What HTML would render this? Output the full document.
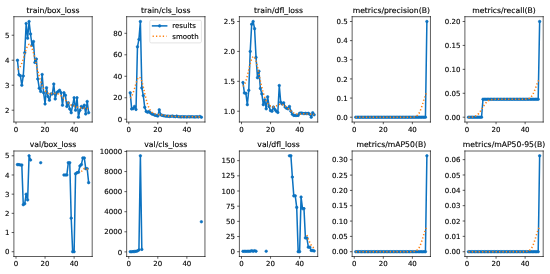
<!DOCTYPE html>
<html><head><meta charset="utf-8"><title>results</title>
<style>html,body{margin:0;padding:0;background:#fff;overflow:hidden}body{width:550px;height:274px;font-family:"DejaVu Sans","Liberation Sans",sans-serif}svg text{stroke:#000;stroke-width:0.2;stroke-linejoin:round}</style></head>
<body>
<svg width="550" height="274" viewBox="0 0 864 432" preserveAspectRatio="none" style="display:block"> <defs> <style type="text/css">*{stroke-linejoin: round; stroke-linecap: butt}</style> </defs> <g id="figure_1"> <g id="patch_1"> <path d="M 0 432 L 864 432 L 864 0 L 0 0 z " style="fill: #ffffff"/> </g> <g id="axes_1"> <g id="patch_2"> <path d="M 21.835636 192.350365 L 144.837818 192.350365 L 144.837818 26.329927 L 21.835636 26.329927 z " style="fill: #ffffff"/> </g> <g id="matplotlib.axis_1"> <g id="xtick_1"> <g id="line2d_1">  <g> <path d="M 0 0 L 0 3.5" transform="translate(25.1446 192.350365)" style="stroke: #000000"/> </g> </g> <g id="text_1"> <text style="font-size: 11.05px; font-family: 'DejaVu Sans', 'Liberation Sans', sans-serif; text-anchor: middle" x="25.1446" y="207.746638">0</text> </g> </g> <g id="xtick_2"> <g id="line2d_2"> <g> <path d="M 0 0 L 0 3.5" transform="translate(70.785484 192.350365)" style="stroke: #000000"/> </g> </g> <g id="text_2"> <text style="font-size: 11.05px; font-family: 'DejaVu Sans', 'Liberation Sans', sans-serif; text-anchor: middle" x="70.785484" y="207.746638">20</text> </g> </g> <g id="xtick_3"> <g id="line2d_3"> <g> <path d="M 0 0 L 0 3.5" transform="translate(116.426368 192.350365)" style="stroke: #000000"/> </g> </g> <g id="text_3"> <text style="font-size: 11.05px; font-family: 'DejaVu Sans', 'Liberation Sans', sans-serif; text-anchor: middle" x="116.426368" y="207.746638">40</text> </g> </g> </g> <g id="matplotlib.axis_2"> <g id="ytick_1"> <g id="line2d_4">  <g> <path d="M 0 0 L -3.5 0" transform="translate(21.835636 173.770105)" style="stroke: #000000"/> </g> </g> <g id="text_4"> <text style="font-size: 11.05px; font-family: 'DejaVu Sans', 'Liberation Sans', sans-serif; text-anchor: end" x="14.835636" y="177.968241">2</text> </g> </g> <g id="ytick_2"> <g id="line2d_5"> <g> <path d="M 0 0 L -3.5 0" transform="translate(21.835636 134.363402)" style="stroke: #000000"/> </g> </g> <g id="text_5"> <text style="font-size: 11.05px; font-family: 'DejaVu Sans', 'Liberation Sans', sans-serif; text-anchor: end" x="14.835636" y="138.561539">3</text> </g> </g> <g id="ytick_3"> <g id="line2d_6"> <g> <path d="M 0 0 L -3.5 0" transform="translate(21.835636 94.9567)" style="stroke: #000000"/> </g> </g> <g id="text_6"> <text style="font-size: 11.05px; font-family: 'DejaVu Sans', 'Liberation Sans', sans-serif; text-anchor: end" x="14.835636" y="99.154836">4</text> </g> </g> <g id="ytick_4"> <g id="line2d_7"> <g> <path d="M 0 0 L -3.5 0" transform="translate(21.835636 55.549997)" style="stroke: #000000"/> </g> </g> <g id="text_7"> <text style="font-size: 11.05px; font-family: 'DejaVu Sans', 'Liberation Sans', sans-serif; text-anchor: end" x="14.835636" y="59.748134">5</text> </g> </g> </g> <g id="line2d_8"> <path d="M 27.426645 94.9567 L 29.708689 117.812587 L 31.990733 119.388855 L 34.272777 134.363402 L 36.554821 119.782922 L 38.836866 83.134689 L 41.11891 37.028847 L 43.400954 60.278801 L 45.682998 33.876311 L 47.965042 53.579662 L 50.247087 71.312678 L 52.529131 65.401673 L 54.811175 98.503303 L 57.093219 92.986364 L 59.375263 124.511726 L 61.657307 139.092206 L 63.939352 144.215078 L 66.221396 117.41852 L 68.50344 146.185413 L 70.785484 163.918429 L 73.067528 138.304072 L 75.349573 152.096418 L 77.631617 158.007424 L 79.913661 148.155748 L 82.195705 148.155748 L 84.477749 132.393067 L 86.759794 156.037089 L 89.041838 146.185413 L 91.323882 144.215078 L 93.605926 142.244743 L 95.88797 146.185413 L 98.170015 165.888764 L 100.452059 146.185413 L 102.734103 150.126083 L 105.016147 167.859099 L 107.298191 161.948094 L 109.580235 171.79977 L 111.86228 177.710775 L 114.144324 165.888764 L 116.426368 154.066753 L 118.708412 173.770105 L 120.990456 154.066753 L 123.272501 184.803981 L 125.554545 173.770105 L 127.836589 167.859099 L 130.118633 169.829434 L 132.400677 165.888764 L 134.682722 179.68111 L 136.964766 159.977759 L 139.24681 177.710775 " clip-path="url(#p479b10264c)" style="fill: none; stroke: #0c72c0; stroke-width: 2.4; stroke-linecap: square"/>  <g clip-path="url(#p479b10264c)"> <circle cx="27.426645" cy="94.9567" r="2.000" style="fill: #0c72c0; stroke: #0c72c0"/> <circle cx="29.708689" cy="117.812587" r="2.000" style="fill: #0c72c0; stroke: #0c72c0"/> <circle cx="31.990733" cy="119.388855" r="2.000" style="fill: #0c72c0; stroke: #0c72c0"/> <circle cx="34.272777" cy="134.363402" r="2.000" style="fill: #0c72c0; stroke: #0c72c0"/> <circle cx="36.554821" cy="119.782922" r="2.000" style="fill: #0c72c0; stroke: #0c72c0"/> <circle cx="38.836866" cy="83.134689" r="2.000" style="fill: #0c72c0; stroke: #0c72c0"/> <circle cx="41.11891" cy="37.028847" r="2.000" style="fill: #0c72c0; stroke: #0c72c0"/> <circle cx="43.400954" cy="60.278801" r="2.000" style="fill: #0c72c0; stroke: #0c72c0"/> <circle cx="45.682998" cy="33.876311" r="2.000" style="fill: #0c72c0; stroke: #0c72c0"/> <circle cx="47.965042" cy="53.579662" r="2.000" style="fill: #0c72c0; stroke: #0c72c0"/> <circle cx="50.247087" cy="71.312678" r="2.000" style="fill: #0c72c0; stroke: #0c72c0"/> <circle cx="52.529131" cy="65.401673" r="2.000" style="fill: #0c72c0; stroke: #0c72c0"/> <circle cx="54.811175" cy="98.503303" r="2.000" style="fill: #0c72c0; stroke: #0c72c0"/> <circle cx="57.093219" cy="92.986364" r="2.000" style="fill: #0c72c0; stroke: #0c72c0"/> <circle cx="59.375263" cy="124.511726" r="2.000" style="fill: #0c72c0; stroke: #0c72c0"/> <circle cx="61.657307" cy="139.092206" r="2.000" style="fill: #0c72c0; stroke: #0c72c0"/> <circle cx="63.939352" cy="144.215078" r="2.000" style="fill: #0c72c0; stroke: #0c72c0"/> <circle cx="66.221396" cy="117.41852" r="2.000" style="fill: #0c72c0; stroke: #0c72c0"/> <circle cx="68.50344" cy="146.185413" r="2.000" style="fill: #0c72c0; stroke: #0c72c0"/> <circle cx="70.785484" cy="163.918429" r="2.000" style="fill: #0c72c0; stroke: #0c72c0"/> <circle cx="73.067528" cy="138.304072" r="2.000" style="fill: #0c72c0; stroke: #0c72c0"/> <circle cx="75.349573" cy="152.096418" r="2.000" style="fill: #0c72c0; stroke: #0c72c0"/> <circle cx="77.631617" cy="158.007424" r="2.000" style="fill: #0c72c0; stroke: #0c72c0"/> <circle cx="79.913661" cy="148.155748" r="2.000" style="fill: #0c72c0; stroke: #0c72c0"/> <circle cx="82.195705" cy="148.155748" r="2.000" style="fill: #0c72c0; stroke: #0c72c0"/> <circle cx="84.477749" cy="132.393067" r="2.000" style="fill: #0c72c0; stroke: #0c72c0"/> <circle cx="86.759794" cy="156.037089" r="2.000" style="fill: #0c72c0; stroke: #0c72c0"/> <circle cx="89.041838" cy="146.185413" r="2.000" style="fill: #0c72c0; stroke: #0c72c0"/> <circle cx="91.323882" cy="144.215078" r="2.000" style="fill: #0c72c0; stroke: #0c72c0"/> <circle cx="93.605926" cy="142.244743" r="2.000" style="fill: #0c72c0; stroke: #0c72c0"/> <circle cx="95.88797" cy="146.185413" r="2.000" style="fill: #0c72c0; stroke: #0c72c0"/> <circle cx="98.170015" cy="165.888764" r="2.000" style="fill: #0c72c0; stroke: #0c72c0"/> <circle cx="100.452059" cy="146.185413" r="2.000" style="fill: #0c72c0; stroke: #0c72c0"/> <circle cx="102.734103" cy="150.126083" r="2.000" style="fill: #0c72c0; stroke: #0c72c0"/> <circle cx="105.016147" cy="167.859099" r="2.000" style="fill: #0c72c0; stroke: #0c72c0"/> <circle cx="107.298191" cy="161.948094" r="2.000" style="fill: #0c72c0; stroke: #0c72c0"/> <circle cx="109.580235" cy="171.79977" r="2.000" style="fill: #0c72c0; stroke: #0c72c0"/> <circle cx="111.86228" cy="177.710775" r="2.000" style="fill: #0c72c0; stroke: #0c72c0"/> <circle cx="114.144324" cy="165.888764" r="2.000" style="fill: #0c72c0; stroke: #0c72c0"/> <circle cx="116.426368" cy="154.066753" r="2.000" style="fill: #0c72c0; stroke: #0c72c0"/> <circle cx="118.708412" cy="173.770105" r="2.000" style="fill: #0c72c0; stroke: #0c72c0"/> <circle cx="120.990456" cy="154.066753" r="2.000" style="fill: #0c72c0; stroke: #0c72c0"/> <circle cx="123.272501" cy="184.803981" r="2.000" style="fill: #0c72c0; stroke: #0c72c0"/> <circle cx="125.554545" cy="173.770105" r="2.000" style="fill: #0c72c0; stroke: #0c72c0"/> <circle cx="127.836589" cy="167.859099" r="2.000" style="fill: #0c72c0; stroke: #0c72c0"/> <circle cx="130.118633" cy="169.829434" r="2.000" style="fill: #0c72c0; stroke: #0c72c0"/> <circle cx="132.400677" cy="165.888764" r="2.000" style="fill: #0c72c0; stroke: #0c72c0"/> <circle cx="134.682722" cy="179.68111" r="2.000" style="fill: #0c72c0; stroke: #0c72c0"/> <circle cx="136.964766" cy="159.977759" r="2.000" style="fill: #0c72c0; stroke: #0c72c0"/> <circle cx="139.24681" cy="177.710775" r="2.000" style="fill: #0c72c0; stroke: #0c72c0"/> </g> </g> <g id="line2d_9"> <path d="M 27.426645 109.33654 L 29.708689 107.855473 L 31.990733 104.645867 L 34.272777 99.503158 L 36.554821 92.642044 L 38.836866 84.897289 L 41.11891 77.606979 L 43.400954 72.222102 L 45.682998 69.869529 L 47.965042 71.064225 L 50.247087 75.659536 L 52.529131 82.99069 L 54.811175 92.103051 L 57.093219 101.970912 L 59.375263 111.679009 L 61.657307 120.543828 L 63.939352 128.1673 L 66.221396 134.410502 L 68.50344 139.304415 L 70.785484 142.952219 L 73.067528 145.469877 L 75.349573 146.989652 L 77.631617 147.68375 L 79.913661 147.783936 L 82.195705 147.56537 L 84.477749 147.301927 L 86.759794 147.223962 L 89.041838 147.491673 L 91.323882 148.197579 L 93.605926 149.374389 L 95.88797 151.010567 L 98.170015 153.051005 L 100.452059 155.398297 L 102.734103 157.903206 L 105.016147 160.365885 L 107.298191 162.571772 L 109.580235 164.353428 L 111.86228 165.659842 L 114.144324 166.577084 L 116.426368 167.277419 L 118.708412 167.926098 L 120.990456 168.59586 L 123.272501 169.256722 L 125.554545 169.828244 L 127.836589 170.252585 L 130.118633 170.532462 L 132.400677 170.712731 L 134.682722 170.842443 L 136.964766 170.940399 L 139.24681 170.996946 " clip-path="url(#p479b10264c)" style="fill: none; stroke-dasharray: 2.014,3.3231; stroke-dashoffset: 0; stroke: #ff7f0e; stroke-width: 2.4"/> </g> <g id="patch_3"> <path d="M 21.835636 192.350365 L 21.835636 26.329927 " style="fill: none; stroke: #000000; stroke-linejoin: miter; stroke-linecap: square"/> </g> <g id="patch_4"> <path d="M 144.837818 192.350365 L 144.837818 26.329927 " style="fill: none; stroke: #000000; stroke-linejoin: miter; stroke-linecap: square"/> </g> <g id="patch_5"> <path d="M 21.835636 192.350365 L 144.837818 192.350365 " style="fill: none; stroke: #000000; stroke-linejoin: miter; stroke-linecap: square"/> </g> <g id="patch_6"> <path d="M 21.835636 26.329927 L 144.837818 26.329927 " style="fill: none; stroke: #000000; stroke-linejoin: miter; stroke-linecap: square"/> </g> <g id="text_8"> <text style="font-size: 12.1px; font-family: 'DejaVu Sans', 'Liberation Sans', sans-serif; text-anchor: middle" x="83.336727" y="20.329927">train/box_loss</text> </g> </g> <g id="axes_2"> <g id="patch_7"> <path d="M 198.955636 192.350365 L 321.957818 192.350365 L 321.957818 26.329927 L 198.955636 26.329927 z " style="fill: #ffffff"/> </g> <g id="matplotlib.axis_3"> <g id="xtick_4"> <g id="line2d_10"> <g> <path d="M 0 0 L 0 3.5" transform="translate(202.2646 192.350365)" style="stroke: #000000"/> </g> </g> <g id="text_9"> <text style="font-size: 11.05px; font-family: 'DejaVu Sans', 'Liberation Sans', sans-serif; text-anchor: middle" x="202.2646" y="207.746638">0</text> </g> </g> <g id="xtick_5"> <g id="line2d_11"> <g> <path d="M 0 0 L 0 3.5" transform="translate(247.905484 192.350365)" style="stroke: #000000"/> </g> </g> <g id="text_10"> <text style="font-size: 11.05px; font-family: 'DejaVu Sans', 'Liberation Sans', sans-serif; text-anchor: middle" x="247.905484" y="207.746638">20</text> </g> </g> <g id="xtick_6"> <g id="line2d_12"> <g> <path d="M 0 0 L 0 3.5" transform="translate(293.546368 192.350365)" style="stroke: #000000"/> </g> </g> <g id="text_11"> <text style="font-size: 11.05px; font-family: 'DejaVu Sans', 'Liberation Sans', sans-serif; text-anchor: middle" x="293.546368" y="207.746638">40</text> </g> </g> </g> <g id="matplotlib.axis_4"> <g id="ytick_5"> <g id="line2d_13"> <g> <path d="M 0 0 L -3.5 0" transform="translate(198.955636 188.022417)" style="stroke: #000000"/> </g> </g> <g id="text_12"> <text style="font-size: 11.05px; font-family: 'DejaVu Sans', 'Liberation Sans', sans-serif; text-anchor: end" x="191.955636" y="192.220553">0</text> </g> </g> <g id="ytick_6"> <g id="line2d_14"> <g> <path d="M 0 0 L -3.5 0" transform="translate(198.955636 154.144152)" style="stroke: #000000"/> </g> </g> <g id="text_13"> <text style="font-size: 11.05px; font-family: 'DejaVu Sans', 'Liberation Sans', sans-serif; text-anchor: end" x="191.955636" y="158.342288">20</text> </g> </g> <g id="ytick_7"> <g id="line2d_15"> <g> <path d="M 0 0 L -3.5 0" transform="translate(198.955636 120.265886)" style="stroke: #000000"/> </g> </g> <g id="text_14"> <text style="font-size: 11.05px; font-family: 'DejaVu Sans', 'Liberation Sans', sans-serif; text-anchor: end" x="191.955636" y="124.464023">40</text> </g> </g> <g id="ytick_8"> <g id="line2d_16"> <g> <path d="M 0 0 L -3.5 0" transform="translate(198.955636 86.387621)" style="stroke: #000000"/> </g> </g> <g id="text_15"> <text style="font-size: 11.05px; font-family: 'DejaVu Sans', 'Liberation Sans', sans-serif; text-anchor: end" x="191.955636" y="90.585758">60</text> </g> </g> <g id="ytick_9"> <g id="line2d_17"> <g> <path d="M 0 0 L -3.5 0" transform="translate(198.955636 52.509356)" style="stroke: #000000"/> </g> </g> <g id="text_16"> <text style="font-size: 11.05px; font-family: 'DejaVu Sans', 'Liberation Sans', sans-serif; text-anchor: end" x="191.955636" y="56.707493">80</text> </g> </g> </g> <g id="line2d_18"> <path d="M 204.546645 146.352151 L 206.828689 171.760849 L 209.110733 171.252675 L 211.392777 167.864849 L 213.674821 172.607806 L 215.956866 73.852663 L 218.23891 62.164662 L 220.520954 33.876311 L 222.802998 138.56015 L 225.085042 150.756325 L 227.367087 169.219979 L 229.649131 175.65685 L 231.931175 177.01198 L 234.213219 175.65685 L 236.495263 178.19772 L 238.777307 179.891633 L 241.059352 180.399807 L 243.341396 181.585546 L 245.62344 182.09372 L 247.905484 182.940677 L 250.187528 173.11598 L 252.469573 180.907981 L 254.751617 181.924329 L 257.033661 182.432503 L 259.315705 182.940677 L 261.597749 183.279459 L 263.879794 183.110068 L 266.161838 183.618242 L 268.443882 183.448851 L 270.725926 182.940677 L 273.00797 183.618242 L 275.290015 183.957025 L 277.572059 183.110068 L 279.854103 183.957025 L 282.136147 184.126416 L 284.418191 184.295807 L 286.700235 183.957025 L 288.98228 184.295807 L 291.264324 184.126416 L 293.546368 184.465199 L 295.828412 183.957025 L 298.110456 184.295807 L 300.392501 184.126416 L 302.674545 184.126416 L 304.956589 184.465199 L 307.238633 184.295807 L 309.520677 184.126416 L 311.802722 184.465199 L 314.084766 183.618242 L 316.36681 184.803981 " clip-path="url(#pcf17336f3a)" style="fill: none; stroke: #0c72c0; stroke-width: 2.4; stroke-linecap: square"/> <g clip-path="url(#pcf17336f3a)"> <circle cx="204.546645" cy="146.352151" r="2.000" style="fill: #0c72c0; stroke: #0c72c0"/> <circle cx="206.828689" cy="171.760849" r="2.000" style="fill: #0c72c0; stroke: #0c72c0"/> <circle cx="209.110733" cy="171.252675" r="2.000" style="fill: #0c72c0; stroke: #0c72c0"/> <circle cx="211.392777" cy="167.864849" r="2.000" style="fill: #0c72c0; stroke: #0c72c0"/> <circle cx="213.674821" cy="172.607806" r="2.000" style="fill: #0c72c0; stroke: #0c72c0"/> <circle cx="215.956866" cy="73.852663" r="2.000" style="fill: #0c72c0; stroke: #0c72c0"/> <circle cx="218.23891" cy="62.164662" r="2.000" style="fill: #0c72c0; stroke: #0c72c0"/> <circle cx="220.520954" cy="33.876311" r="2.000" style="fill: #0c72c0; stroke: #0c72c0"/> <circle cx="222.802998" cy="138.56015" r="2.000" style="fill: #0c72c0; stroke: #0c72c0"/> <circle cx="225.085042" cy="150.756325" r="2.000" style="fill: #0c72c0; stroke: #0c72c0"/> <circle cx="227.367087" cy="169.219979" r="2.000" style="fill: #0c72c0; stroke: #0c72c0"/> <circle cx="229.649131" cy="175.65685" r="2.000" style="fill: #0c72c0; stroke: #0c72c0"/> <circle cx="231.931175" cy="177.01198" r="2.000" style="fill: #0c72c0; stroke: #0c72c0"/> <circle cx="234.213219" cy="175.65685" r="2.000" style="fill: #0c72c0; stroke: #0c72c0"/> <circle cx="236.495263" cy="178.19772" r="2.000" style="fill: #0c72c0; stroke: #0c72c0"/> <circle cx="238.777307" cy="179.891633" r="2.000" style="fill: #0c72c0; stroke: #0c72c0"/> <circle cx="241.059352" cy="180.399807" r="2.000" style="fill: #0c72c0; stroke: #0c72c0"/> <circle cx="243.341396" cy="181.585546" r="2.000" style="fill: #0c72c0; stroke: #0c72c0"/> <circle cx="245.62344" cy="182.09372" r="2.000" style="fill: #0c72c0; stroke: #0c72c0"/> <circle cx="247.905484" cy="182.940677" r="2.000" style="fill: #0c72c0; stroke: #0c72c0"/> <circle cx="250.187528" cy="173.11598" r="2.000" style="fill: #0c72c0; stroke: #0c72c0"/> <circle cx="252.469573" cy="180.907981" r="2.000" style="fill: #0c72c0; stroke: #0c72c0"/> <circle cx="254.751617" cy="181.924329" r="2.000" style="fill: #0c72c0; stroke: #0c72c0"/> <circle cx="257.033661" cy="182.432503" r="2.000" style="fill: #0c72c0; stroke: #0c72c0"/> <circle cx="259.315705" cy="182.940677" r="2.000" style="fill: #0c72c0; stroke: #0c72c0"/> <circle cx="261.597749" cy="183.279459" r="2.000" style="fill: #0c72c0; stroke: #0c72c0"/> <circle cx="263.879794" cy="183.110068" r="2.000" style="fill: #0c72c0; stroke: #0c72c0"/> <circle cx="266.161838" cy="183.618242" r="2.000" style="fill: #0c72c0; stroke: #0c72c0"/> <circle cx="268.443882" cy="183.448851" r="2.000" style="fill: #0c72c0; stroke: #0c72c0"/> <circle cx="270.725926" cy="182.940677" r="2.000" style="fill: #0c72c0; stroke: #0c72c0"/> <circle cx="273.00797" cy="183.618242" r="2.000" style="fill: #0c72c0; stroke: #0c72c0"/> <circle cx="275.290015" cy="183.957025" r="2.000" style="fill: #0c72c0; stroke: #0c72c0"/> <circle cx="277.572059" cy="183.110068" r="2.000" style="fill: #0c72c0; stroke: #0c72c0"/> <circle cx="279.854103" cy="183.957025" r="2.000" style="fill: #0c72c0; stroke: #0c72c0"/> <circle cx="282.136147" cy="184.126416" r="2.000" style="fill: #0c72c0; stroke: #0c72c0"/> <circle cx="284.418191" cy="184.295807" r="2.000" style="fill: #0c72c0; stroke: #0c72c0"/> <circle cx="286.700235" cy="183.957025" r="2.000" style="fill: #0c72c0; stroke: #0c72c0"/> <circle cx="288.98228" cy="184.295807" r="2.000" style="fill: #0c72c0; stroke: #0c72c0"/> <circle cx="291.264324" cy="184.126416" r="2.000" style="fill: #0c72c0; stroke: #0c72c0"/> <circle cx="293.546368" cy="184.465199" r="2.000" style="fill: #0c72c0; stroke: #0c72c0"/> <circle cx="295.828412" cy="183.957025" r="2.000" style="fill: #0c72c0; stroke: #0c72c0"/> <circle cx="298.110456" cy="184.295807" r="2.000" style="fill: #0c72c0; stroke: #0c72c0"/> <circle cx="300.392501" cy="184.126416" r="2.000" style="fill: #0c72c0; stroke: #0c72c0"/> <circle cx="302.674545" cy="184.126416" r="2.000" style="fill: #0c72c0; stroke: #0c72c0"/> <circle cx="304.956589" cy="184.465199" r="2.000" style="fill: #0c72c0; stroke: #0c72c0"/> <circle cx="307.238633" cy="184.295807" r="2.000" style="fill: #0c72c0; stroke: #0c72c0"/> <circle cx="309.520677" cy="184.126416" r="2.000" style="fill: #0c72c0; stroke: #0c72c0"/> <circle cx="311.802722" cy="184.465199" r="2.000" style="fill: #0c72c0; stroke: #0c72c0"/> <circle cx="314.084766" cy="183.618242" r="2.000" style="fill: #0c72c0; stroke: #0c72c0"/> <circle cx="316.36681" cy="184.803981" r="2.000" style="fill: #0c72c0; stroke: #0c72c0"/> </g> </g> <g id="line2d_19"> <path d="M 204.546645 154.751696 L 206.828689 151.970921 L 209.110733 146.60504 L 211.392777 139.302909 L 213.674821 131.404196 L 215.956866 124.829674 L 218.23891 121.517957 L 220.520954 122.676694 L 222.802998 128.26515 L 225.085042 137.044464 L 227.367087 147.132064 L 229.649131 156.740722 L 231.931175 164.704164 L 234.213219 170.610615 L 236.495263 174.618679 L 238.777307 177.156058 L 241.059352 178.676694 L 243.341396 179.548079 L 245.62344 180.040465 L 247.905484 180.348675 L 250.187528 180.615865 L 252.469573 180.928041 L 254.751617 181.315046 L 257.033661 181.752486 L 259.315705 182.189508 L 261.597749 182.576986 L 263.879794 182.887144 L 266.161838 183.117753 L 268.443882 183.284897 L 270.725926 183.411668 L 273.00797 183.518966 L 275.290015 183.62072 L 277.572059 183.722753 L 279.854103 183.824306 L 282.136147 183.92019 L 284.418191 184.004704 L 286.700235 184.073367 L 288.98228 184.124652 L 291.264324 184.160003 L 293.546368 184.183019 L 295.828412 184.198216 L 298.110456 184.209645 L 300.392501 184.219994 L 302.674545 184.230323 L 304.956589 184.240621 L 307.238633 184.250613 L 309.520677 184.260119 L 311.802722 184.268869 L 314.084766 184.276002 L 316.36681 184.280121 " clip-path="url(#pcf17336f3a)" style="fill: none; stroke-dasharray: 2.014,3.3231; stroke-dashoffset: 0; stroke: #ff7f0e; stroke-width: 2.4"/> </g> <g id="patch_8"> <path d="M 198.955636 192.350365 L 198.955636 26.329927 " style="fill: none; stroke: #000000; stroke-linejoin: miter; stroke-linecap: square"/> </g> <g id="patch_9"> <path d="M 321.957818 192.350365 L 321.957818 26.329927 " style="fill: none; stroke: #000000; stroke-linejoin: miter; stroke-linecap: square"/> </g> <g id="patch_10"> <path d="M 198.955636 192.350365 L 321.957818 192.350365 " style="fill: none; stroke: #000000; stroke-linejoin: miter; stroke-linecap: square"/> </g> <g id="patch_11"> <path d="M 198.955636 26.329927 L 321.957818 26.329927 " style="fill: none; stroke: #000000; stroke-linejoin: miter; stroke-linecap: square"/> </g> <g id="text_17"> <text style="font-size: 12.1px; font-family: 'DejaVu Sans', 'Liberation Sans', sans-serif; text-anchor: middle" x="260.456727" y="20.329927">train/cls_loss</text> </g> <g id="legend_1"> <g id="patch_12"> <path d="M 237.485748 67.608583 L 314.222818 67.608583 Q 316.432818 67.608583 316.432818 65.398583 L 316.432818 34.064927 Q 316.432818 31.854927 314.222818 31.854927 L 237.485748 31.854927 Q 235.275748 31.854927 235.275748 34.064927 L 235.275748 65.398583 Q 235.275748 67.608583 237.485748 67.608583 z " style="fill: #ffffff; opacity: 0.8; stroke: #cccccc; stroke-linejoin: miter"/> </g> <g id="line2d_20"> <path d="M 239.695748 40.8037 L 250.745748 40.8037 L 261.795748 40.8037 " style="fill: none; stroke: #0c72c0; stroke-width: 2.4; stroke-linecap: square"/> <g> <circle cx="250.745748" cy="40.8037" r="2.000" style="fill: #0c72c0; stroke: #0c72c0"/> </g> </g> <g id="text_18"> <text style="font-size: 11.05px; font-family: 'DejaVu Sans', 'Liberation Sans', sans-serif; text-anchor: start" x="270.635748" y="44.6712">results</text> </g> <g id="line2d_21"> <path d="M 239.695748 57.023029 L 250.745748 57.023029 L 261.795748 57.023029 " style="fill: none; stroke-dasharray: 2.014,3.3231; stroke-dashoffset: 0; stroke: #ff7f0e; stroke-width: 2.4"/> </g> <g id="text_19"> <text style="font-size: 11.05px; font-family: 'DejaVu Sans', 'Liberation Sans', sans-serif; text-anchor: start" x="270.635748" y="60.890529">smooth</text> </g> </g> </g> <g id="axes_3"> <g id="patch_13"> <path d="M 376.075636 192.350365 L 499.077818 192.350365 L 499.077818 26.329927 L 376.075636 26.329927 z " style="fill: #ffffff"/> </g> <g id="matplotlib.axis_5"> <g id="xtick_7"> <g id="line2d_22"> <g> <path d="M 0 0 L 0 3.5" transform="translate(379.3846 192.350365)" style="stroke: #000000"/> </g> </g> <g id="text_20"> <text style="font-size: 11.05px; font-family: 'DejaVu Sans', 'Liberation Sans', sans-serif; text-anchor: middle" x="379.3846" y="207.746638">0</text> </g> </g> <g id="xtick_8"> <g id="line2d_23"> <g> <path d="M 0 0 L 0 3.5" transform="translate(425.025484 192.350365)" style="stroke: #000000"/> </g> </g> <g id="text_21"> <text style="font-size: 11.05px; font-family: 'DejaVu Sans', 'Liberation Sans', sans-serif; text-anchor: middle" x="425.025484" y="207.746638">20</text> </g> </g> <g id="xtick_9"> <g id="line2d_24"> <g> <path d="M 0 0 L 0 3.5" transform="translate(470.666368 192.350365)" style="stroke: #000000"/> </g> </g> <g id="text_22"> <text style="font-size: 11.05px; font-family: 'DejaVu Sans', 'Liberation Sans', sans-serif; text-anchor: middle" x="470.666368" y="207.746638">40</text> </g> </g> </g> <g id="matplotlib.axis_6"> <g id="ytick_10"> <g id="line2d_25"> <g> <path d="M 0 0 L -3.5 0" transform="translate(376.075636 175.371002)" style="stroke: #000000"/> </g> </g> <g id="text_23"> <text style="font-size: 11.05px; font-family: 'DejaVu Sans', 'Liberation Sans', sans-serif; text-anchor: end" x="369.075636" y="179.569139">1.0</text> </g> </g> <g id="ytick_11"> <g id="line2d_26"> <g> <path d="M 0 0 L -3.5 0" transform="translate(376.075636 128.206105)" style="stroke: #000000"/> </g> </g> <g id="text_24"> <text style="font-size: 11.05px; font-family: 'DejaVu Sans', 'Liberation Sans', sans-serif; text-anchor: end" x="369.075636" y="132.404242">1.5</text> </g> </g> <g id="ytick_12"> <g id="line2d_27"> <g> <path d="M 0 0 L -3.5 0" transform="translate(376.075636 81.041208)" style="stroke: #000000"/> </g> </g> <g id="text_25"> <text style="font-size: 11.05px; font-family: 'DejaVu Sans', 'Liberation Sans', sans-serif; text-anchor: end" x="369.075636" y="85.239344">2.0</text> </g> </g> <g id="ytick_13"> <g id="line2d_28"> <g> <path d="M 0 0 L -3.5 0" transform="translate(376.075636 33.876311)" style="stroke: #000000"/> </g> </g> <g id="text_26"> <text style="font-size: 11.05px; font-family: 'DejaVu Sans', 'Liberation Sans', sans-serif; text-anchor: end" x="369.075636" y="38.074447">2.5</text> </g> </g> </g> <g id="line2d_29"> <path d="M 381.666645 130.092701 L 383.948689 146.600415 L 386.230733 147.072064 L 388.512777 164.994725 L 390.794821 142.355574 L 393.076866 81.041208 L 395.35891 38.121151 L 397.640954 33.876311 L 399.922998 45.195886 L 402.205042 90.474187 L 404.487087 122.546317 L 406.769131 112.17004 L 409.051175 139.52568 L 411.333219 148.015362 L 413.615263 164.994725 L 415.897307 157.448341 L 418.179352 171.59781 L 420.461396 152.731851 L 422.74344 167.824618 L 425.025484 174.427704 L 427.307528 175.371002 L 429.589573 168.767916 L 431.871617 172.541108 L 434.153661 175.371002 L 436.435705 177.257598 L 438.717749 134.80919 L 440.999794 161.221533 L 443.281838 164.051427 L 445.563882 162.164831 L 447.845926 168.767916 L 450.12797 170.654512 L 452.410015 171.59781 L 454.692059 167.824618 L 456.974103 175.371002 L 459.256147 180.087492 L 461.538191 181.974088 L 463.820235 181.974088 L 466.10228 181.974088 L 468.384324 181.974088 L 470.666368 178.672545 L 472.948412 178.200896 L 475.230456 178.672545 L 477.512501 179.144194 L 479.794545 178.672545 L 482.076589 179.144194 L 484.358633 178.672545 L 486.640677 180.087492 L 488.922722 184.803981 L 491.204766 177.729247 L 493.48681 181.03079 " clip-path="url(#pfac985c8c0)" style="fill: none; stroke: #0c72c0; stroke-width: 2.4; stroke-linecap: square"/> <g clip-path="url(#pfac985c8c0)"> <circle cx="381.666645" cy="130.092701" r="2.000" style="fill: #0c72c0; stroke: #0c72c0"/> <circle cx="383.948689" cy="146.600415" r="2.000" style="fill: #0c72c0; stroke: #0c72c0"/> <circle cx="386.230733" cy="147.072064" r="2.000" style="fill: #0c72c0; stroke: #0c72c0"/> <circle cx="388.512777" cy="164.994725" r="2.000" style="fill: #0c72c0; stroke: #0c72c0"/> <circle cx="390.794821" cy="142.355574" r="2.000" style="fill: #0c72c0; stroke: #0c72c0"/> <circle cx="393.076866" cy="81.041208" r="2.000" style="fill: #0c72c0; stroke: #0c72c0"/> <circle cx="395.35891" cy="38.121151" r="2.000" style="fill: #0c72c0; stroke: #0c72c0"/> <circle cx="397.640954" cy="33.876311" r="2.000" style="fill: #0c72c0; stroke: #0c72c0"/> <circle cx="399.922998" cy="45.195886" r="2.000" style="fill: #0c72c0; stroke: #0c72c0"/> <circle cx="402.205042" cy="90.474187" r="2.000" style="fill: #0c72c0; stroke: #0c72c0"/> <circle cx="404.487087" cy="122.546317" r="2.000" style="fill: #0c72c0; stroke: #0c72c0"/> <circle cx="406.769131" cy="112.17004" r="2.000" style="fill: #0c72c0; stroke: #0c72c0"/> <circle cx="409.051175" cy="139.52568" r="2.000" style="fill: #0c72c0; stroke: #0c72c0"/> <circle cx="411.333219" cy="148.015362" r="2.000" style="fill: #0c72c0; stroke: #0c72c0"/> <circle cx="413.615263" cy="164.994725" r="2.000" style="fill: #0c72c0; stroke: #0c72c0"/> <circle cx="415.897307" cy="157.448341" r="2.000" style="fill: #0c72c0; stroke: #0c72c0"/> <circle cx="418.179352" cy="171.59781" r="2.000" style="fill: #0c72c0; stroke: #0c72c0"/> <circle cx="420.461396" cy="152.731851" r="2.000" style="fill: #0c72c0; stroke: #0c72c0"/> <circle cx="422.74344" cy="167.824618" r="2.000" style="fill: #0c72c0; stroke: #0c72c0"/> <circle cx="425.025484" cy="174.427704" r="2.000" style="fill: #0c72c0; stroke: #0c72c0"/> <circle cx="427.307528" cy="175.371002" r="2.000" style="fill: #0c72c0; stroke: #0c72c0"/> <circle cx="429.589573" cy="168.767916" r="2.000" style="fill: #0c72c0; stroke: #0c72c0"/> <circle cx="431.871617" cy="172.541108" r="2.000" style="fill: #0c72c0; stroke: #0c72c0"/> <circle cx="434.153661" cy="175.371002" r="2.000" style="fill: #0c72c0; stroke: #0c72c0"/> <circle cx="436.435705" cy="177.257598" r="2.000" style="fill: #0c72c0; stroke: #0c72c0"/> <circle cx="438.717749" cy="134.80919" r="2.000" style="fill: #0c72c0; stroke: #0c72c0"/> <circle cx="440.999794" cy="161.221533" r="2.000" style="fill: #0c72c0; stroke: #0c72c0"/> <circle cx="443.281838" cy="164.051427" r="2.000" style="fill: #0c72c0; stroke: #0c72c0"/> <circle cx="445.563882" cy="162.164831" r="2.000" style="fill: #0c72c0; stroke: #0c72c0"/> <circle cx="447.845926" cy="168.767916" r="2.000" style="fill: #0c72c0; stroke: #0c72c0"/> <circle cx="450.12797" cy="170.654512" r="2.000" style="fill: #0c72c0; stroke: #0c72c0"/> <circle cx="452.410015" cy="171.59781" r="2.000" style="fill: #0c72c0; stroke: #0c72c0"/> <circle cx="454.692059" cy="167.824618" r="2.000" style="fill: #0c72c0; stroke: #0c72c0"/> <circle cx="456.974103" cy="175.371002" r="2.000" style="fill: #0c72c0; stroke: #0c72c0"/> <circle cx="459.256147" cy="180.087492" r="2.000" style="fill: #0c72c0; stroke: #0c72c0"/> <circle cx="461.538191" cy="181.974088" r="2.000" style="fill: #0c72c0; stroke: #0c72c0"/> <circle cx="463.820235" cy="181.974088" r="2.000" style="fill: #0c72c0; stroke: #0c72c0"/> <circle cx="466.10228" cy="181.974088" r="2.000" style="fill: #0c72c0; stroke: #0c72c0"/> <circle cx="468.384324" cy="181.974088" r="2.000" style="fill: #0c72c0; stroke: #0c72c0"/> <circle cx="470.666368" cy="178.672545" r="2.000" style="fill: #0c72c0; stroke: #0c72c0"/> <circle cx="472.948412" cy="178.200896" r="2.000" style="fill: #0c72c0; stroke: #0c72c0"/> <circle cx="475.230456" cy="178.672545" r="2.000" style="fill: #0c72c0; stroke: #0c72c0"/> <circle cx="477.512501" cy="179.144194" r="2.000" style="fill: #0c72c0; stroke: #0c72c0"/> <circle cx="479.794545" cy="178.672545" r="2.000" style="fill: #0c72c0; stroke: #0c72c0"/> <circle cx="482.076589" cy="179.144194" r="2.000" style="fill: #0c72c0; stroke: #0c72c0"/> <circle cx="484.358633" cy="178.672545" r="2.000" style="fill: #0c72c0; stroke: #0c72c0"/> <circle cx="486.640677" cy="180.087492" r="2.000" style="fill: #0c72c0; stroke: #0c72c0"/> <circle cx="488.922722" cy="184.803981" r="2.000" style="fill: #0c72c0; stroke: #0c72c0"/> <circle cx="491.204766" cy="177.729247" r="2.000" style="fill: #0c72c0; stroke: #0c72c0"/> <circle cx="493.48681" cy="181.03079" r="2.000" style="fill: #0c72c0; stroke: #0c72c0"/> </g> </g> <g id="line2d_30"> <path d="M 381.666645 136.194962 L 383.948689 133.42308 L 386.230733 127.842281 L 388.512777 119.702045 L 390.794821 109.919462 L 393.076866 100.177364 L 395.35891 92.572977 L 397.640954 88.939066 L 399.922998 90.203006 L 402.205042 96.116645 L 404.487087 105.46061 L 406.769131 116.55737 L 409.051175 127.811326 L 411.333219 138.056648 L 413.615263 146.67069 L 415.897307 153.500688 L 418.179352 158.704311 L 420.461396 162.571763 L 422.74344 165.373224 L 425.025484 167.273286 L 427.307528 168.329376 L 429.589573 168.561098 L 431.871617 168.047068 L 434.153661 166.999118 L 436.435705 165.764786 L 438.717749 164.748268 L 440.999794 164.289118 L 443.281838 164.557432 L 445.563882 165.529517 L 447.845926 167.043675 L 450.12797 168.895432 L 452.410015 170.905169 L 454.692059 172.936805 L 456.974103 174.874835 L 459.256147 176.602578 L 461.538191 178.006456 L 463.820235 179.005437 L 466.10228 179.582956 L 468.384324 179.797381 L 470.666368 179.761976 L 472.948412 179.612476 L 475.230456 179.466751 L 477.512501 179.40221 L 479.794545 179.449149 L 482.076589 179.596628 L 484.358633 179.806541 L 486.640677 180.030169 L 488.922722 180.224633 L 491.204766 180.362525 L 493.48681 180.432584 " clip-path="url(#pfac985c8c0)" style="fill: none; stroke-dasharray: 2.014,3.3231; stroke-dashoffset: 0; stroke: #ff7f0e; stroke-width: 2.4"/> </g> <g id="patch_14"> <path d="M 376.075636 192.350365 L 376.075636 26.329927 " style="fill: none; stroke: #000000; stroke-linejoin: miter; stroke-linecap: square"/> </g> <g id="patch_15"> <path d="M 499.077818 192.350365 L 499.077818 26.329927 " style="fill: none; stroke: #000000; stroke-linejoin: miter; stroke-linecap: square"/> </g> <g id="patch_16"> <path d="M 376.075636 192.350365 L 499.077818 192.350365 " style="fill: none; stroke: #000000; stroke-linejoin: miter; stroke-linecap: square"/> </g> <g id="patch_17"> <path d="M 376.075636 26.329927 L 499.077818 26.329927 " style="fill: none; stroke: #000000; stroke-linejoin: miter; stroke-linecap: square"/> </g> <g id="text_27"> <text style="font-size: 12.1px; font-family: 'DejaVu Sans', 'Liberation Sans', sans-serif; text-anchor: middle" x="437.576727" y="20.329927">train/dfl_loss</text> </g> </g> <g id="axes_4"> <g id="patch_18"> <path d="M 553.195636 192.350365 L 676.197818 192.350365 L 676.197818 26.329927 L 553.195636 26.329927 z " style="fill: #ffffff"/> </g> <g id="matplotlib.axis_7"> <g id="xtick_10"> <g id="line2d_31"> <g> <path d="M 0 0 L 0 3.5" transform="translate(556.5046 192.350365)" style="stroke: #000000"/> </g> </g> <g id="text_28"> <text style="font-size: 11.05px; font-family: 'DejaVu Sans', 'Liberation Sans', sans-serif; text-anchor: middle" x="556.5046" y="207.746638">0</text> </g> </g> <g id="xtick_11"> <g id="line2d_32"> <g> <path d="M 0 0 L 0 3.5" transform="translate(602.145484 192.350365)" style="stroke: #000000"/> </g> </g> <g id="text_29"> <text style="font-size: 11.05px; font-family: 'DejaVu Sans', 'Liberation Sans', sans-serif; text-anchor: middle" x="602.145484" y="207.746638">20</text> </g> </g> <g id="xtick_12"> <g id="line2d_33"> <g> <path d="M 0 0 L 0 3.5" transform="translate(647.786368 192.350365)" style="stroke: #000000"/> </g> </g> <g id="text_30"> <text style="font-size: 11.05px; font-family: 'DejaVu Sans', 'Liberation Sans', sans-serif; text-anchor: middle" x="647.786368" y="207.746638">40</text> </g> </g> </g> <g id="matplotlib.axis_8"> <g id="ytick_14"> <g id="line2d_34"> <g> <path d="M 0 0 L -3.5 0" transform="translate(553.195636 184.803981)" style="stroke: #000000"/> </g> </g> <g id="text_31"> <text style="font-size: 11.05px; font-family: 'DejaVu Sans', 'Liberation Sans', sans-serif; text-anchor: end" x="546.195636" y="189.002118">0.0</text> </g> </g> <g id="ytick_15"> <g id="line2d_35"> <g> <path d="M 0 0 L -3.5 0" transform="translate(553.195636 154.618447)" style="stroke: #000000"/> </g> </g> <g id="text_32"> <text style="font-size: 11.05px; font-family: 'DejaVu Sans', 'Liberation Sans', sans-serif; text-anchor: end" x="546.195636" y="158.816584">0.1</text> </g> </g> <g id="ytick_16"> <g id="line2d_36"> <g> <path d="M 0 0 L -3.5 0" transform="translate(553.195636 124.432913)" style="stroke: #000000"/> </g> </g> <g id="text_33"> <text style="font-size: 11.05px; font-family: 'DejaVu Sans', 'Liberation Sans', sans-serif; text-anchor: end" x="546.195636" y="128.63105">0.2</text> </g> </g> <g id="ytick_17"> <g id="line2d_37"> <g> <path d="M 0 0 L -3.5 0" transform="translate(553.195636 94.247379)" style="stroke: #000000"/> </g> </g> <g id="text_34"> <text style="font-size: 11.05px; font-family: 'DejaVu Sans', 'Liberation Sans', sans-serif; text-anchor: end" x="546.195636" y="98.445516">0.3</text> </g> </g> <g id="ytick_18"> <g id="line2d_38"> <g> <path d="M 0 0 L -3.5 0" transform="translate(553.195636 64.061845)" style="stroke: #000000"/> </g> </g> <g id="text_35"> <text style="font-size: 11.05px; font-family: 'DejaVu Sans', 'Liberation Sans', sans-serif; text-anchor: end" x="546.195636" y="68.259981">0.4</text> </g> </g> <g id="ytick_19"> <g id="line2d_39"> <g> <path d="M 0 0 L -3.5 0" transform="translate(553.195636 33.876311)" style="stroke: #000000"/> </g> </g> <g id="text_36"> <text style="font-size: 11.05px; font-family: 'DejaVu Sans', 'Liberation Sans', sans-serif; text-anchor: end" x="546.195636" y="38.074447">0.5</text> </g> </g> </g> <g id="line2d_40"> <path d="M 558.786645 184.803981 L 561.068689 184.803981 L 563.350733 184.803981 L 565.632777 184.803981 L 567.914821 184.803981 L 570.196866 184.803981 L 572.47891 184.803981 L 574.760954 184.803981 L 577.042998 184.803981 L 579.325042 184.803981 L 581.607087 184.803981 L 583.889131 184.803981 L 586.171175 184.803981 L 588.453219 184.803981 L 590.735263 184.803981 L 593.017307 184.803981 L 595.299352 184.803981 L 597.581396 184.803981 L 599.86344 184.803981 L 602.145484 184.803981 L 604.427528 184.803981 L 606.709573 184.803981 L 608.991617 184.803981 L 611.273661 184.803981 L 613.555705 184.803981 L 615.837749 184.803981 L 618.119794 184.803981 L 620.401838 184.803981 L 622.683882 184.803981 L 624.965926 184.803981 L 627.24797 184.803981 L 629.530015 184.803981 L 631.812059 184.803981 L 634.094103 184.803981 L 636.376147 184.803981 L 638.658191 184.803981 L 640.940235 184.803981 L 643.22228 184.803981 L 645.504324 184.803981 L 647.786368 184.803981 L 650.068412 184.803981 L 652.350456 184.803981 L 654.632501 184.803981 L 656.914545 184.803981 L 659.196589 184.803981 L 661.478633 184.803981 L 663.760677 184.803981 L 666.042722 184.803981 L 668.324766 184.803981 L 670.60681 33.876311 " clip-path="url(#pe173c720a7)" style="fill: none; stroke: #0c72c0; stroke-width: 2.4; stroke-linecap: square"/> <g clip-path="url(#pe173c720a7)"> <circle cx="558.786645" cy="184.803981" r="2.000" style="fill: #0c72c0; stroke: #0c72c0"/> <circle cx="561.068689" cy="184.803981" r="2.000" style="fill: #0c72c0; stroke: #0c72c0"/> <circle cx="563.350733" cy="184.803981" r="2.000" style="fill: #0c72c0; stroke: #0c72c0"/> <circle cx="565.632777" cy="184.803981" r="2.000" style="fill: #0c72c0; stroke: #0c72c0"/> <circle cx="567.914821" cy="184.803981" r="2.000" style="fill: #0c72c0; stroke: #0c72c0"/> <circle cx="570.196866" cy="184.803981" r="2.000" style="fill: #0c72c0; stroke: #0c72c0"/> <circle cx="572.47891" cy="184.803981" r="2.000" style="fill: #0c72c0; stroke: #0c72c0"/> <circle cx="574.760954" cy="184.803981" r="2.000" style="fill: #0c72c0; stroke: #0c72c0"/> <circle cx="577.042998" cy="184.803981" r="2.000" style="fill: #0c72c0; stroke: #0c72c0"/> <circle cx="579.325042" cy="184.803981" r="2.000" style="fill: #0c72c0; stroke: #0c72c0"/> <circle cx="581.607087" cy="184.803981" r="2.000" style="fill: #0c72c0; stroke: #0c72c0"/> <circle cx="583.889131" cy="184.803981" r="2.000" style="fill: #0c72c0; stroke: #0c72c0"/> <circle cx="586.171175" cy="184.803981" r="2.000" style="fill: #0c72c0; stroke: #0c72c0"/> <circle cx="588.453219" cy="184.803981" r="2.000" style="fill: #0c72c0; stroke: #0c72c0"/> <circle cx="590.735263" cy="184.803981" r="2.000" style="fill: #0c72c0; stroke: #0c72c0"/> <circle cx="593.017307" cy="184.803981" r="2.000" style="fill: #0c72c0; stroke: #0c72c0"/> <circle cx="595.299352" cy="184.803981" r="2.000" style="fill: #0c72c0; stroke: #0c72c0"/> <circle cx="597.581396" cy="184.803981" r="2.000" style="fill: #0c72c0; stroke: #0c72c0"/> <circle cx="599.86344" cy="184.803981" r="2.000" style="fill: #0c72c0; stroke: #0c72c0"/> <circle cx="602.145484" cy="184.803981" r="2.000" style="fill: #0c72c0; stroke: #0c72c0"/> <circle cx="604.427528" cy="184.803981" r="2.000" style="fill: #0c72c0; stroke: #0c72c0"/> <circle cx="606.709573" cy="184.803981" r="2.000" style="fill: #0c72c0; stroke: #0c72c0"/> <circle cx="608.991617" cy="184.803981" r="2.000" style="fill: #0c72c0; stroke: #0c72c0"/> <circle cx="611.273661" cy="184.803981" r="2.000" style="fill: #0c72c0; stroke: #0c72c0"/> <circle cx="613.555705" cy="184.803981" r="2.000" style="fill: #0c72c0; stroke: #0c72c0"/> <circle cx="615.837749" cy="184.803981" r="2.000" style="fill: #0c72c0; stroke: #0c72c0"/> <circle cx="618.119794" cy="184.803981" r="2.000" style="fill: #0c72c0; stroke: #0c72c0"/> <circle cx="620.401838" cy="184.803981" r="2.000" style="fill: #0c72c0; stroke: #0c72c0"/> <circle cx="622.683882" cy="184.803981" r="2.000" style="fill: #0c72c0; stroke: #0c72c0"/> <circle cx="624.965926" cy="184.803981" r="2.000" style="fill: #0c72c0; stroke: #0c72c0"/> <circle cx="627.24797" cy="184.803981" r="2.000" style="fill: #0c72c0; stroke: #0c72c0"/> <circle cx="629.530015" cy="184.803981" r="2.000" style="fill: #0c72c0; stroke: #0c72c0"/> <circle cx="631.812059" cy="184.803981" r="2.000" style="fill: #0c72c0; stroke: #0c72c0"/> <circle cx="634.094103" cy="184.803981" r="2.000" style="fill: #0c72c0; stroke: #0c72c0"/> <circle cx="636.376147" cy="184.803981" r="2.000" style="fill: #0c72c0; stroke: #0c72c0"/> <circle cx="638.658191" cy="184.803981" r="2.000" style="fill: #0c72c0; stroke: #0c72c0"/> <circle cx="640.940235" cy="184.803981" r="2.000" style="fill: #0c72c0; stroke: #0c72c0"/> <circle cx="643.22228" cy="184.803981" r="2.000" style="fill: #0c72c0; stroke: #0c72c0"/> <circle cx="645.504324" cy="184.803981" r="2.000" style="fill: #0c72c0; stroke: #0c72c0"/> <circle cx="647.786368" cy="184.803981" r="2.000" style="fill: #0c72c0; stroke: #0c72c0"/> <circle cx="650.068412" cy="184.803981" r="2.000" style="fill: #0c72c0; stroke: #0c72c0"/> <circle cx="652.350456" cy="184.803981" r="2.000" style="fill: #0c72c0; stroke: #0c72c0"/> <circle cx="654.632501" cy="184.803981" r="2.000" style="fill: #0c72c0; stroke: #0c72c0"/> <circle cx="656.914545" cy="184.803981" r="2.000" style="fill: #0c72c0; stroke: #0c72c0"/> <circle cx="659.196589" cy="184.803981" r="2.000" style="fill: #0c72c0; stroke: #0c72c0"/> <circle cx="661.478633" cy="184.803981" r="2.000" style="fill: #0c72c0; stroke: #0c72c0"/> <circle cx="663.760677" cy="184.803981" r="2.000" style="fill: #0c72c0; stroke: #0c72c0"/> <circle cx="666.042722" cy="184.803981" r="2.000" style="fill: #0c72c0; stroke: #0c72c0"/> <circle cx="668.324766" cy="184.803981" r="2.000" style="fill: #0c72c0; stroke: #0c72c0"/> <circle cx="670.60681" cy="33.876311" r="2.000" style="fill: #0c72c0; stroke: #0c72c0"/> </g> </g> <g id="line2d_41"> <path d="M 558.786645 184.803981 L 561.068689 184.803981 L 563.350733 184.803981 L 565.632777 184.803981 L 567.914821 184.803981 L 570.196866 184.803981 L 572.47891 184.803981 L 574.760954 184.803981 L 577.042998 184.803981 L 579.325042 184.803981 L 581.607087 184.803981 L 583.889131 184.803981 L 586.171175 184.803981 L 588.453219 184.803981 L 590.735263 184.803981 L 593.017307 184.803981 L 595.299352 184.803981 L 597.581396 184.803981 L 599.86344 184.803981 L 602.145484 184.803981 L 604.427528 184.803981 L 606.709573 184.803981 L 608.991617 184.803981 L 611.273661 184.803981 L 613.555705 184.803981 L 615.837749 184.803981 L 618.119794 184.803981 L 620.401838 184.803981 L 622.683882 184.803981 L 624.965926 184.803981 L 627.24797 184.803981 L 629.530015 184.803981 L 631.812059 184.803981 L 634.094103 184.803981 L 636.376147 184.803981 L 638.658191 184.803981 L 640.940235 184.803981 L 643.22228 184.797248 L 645.504324 184.773086 L 647.786368 184.702226 L 650.068412 184.503419 L 652.350456 184.007673 L 654.632501 182.911402 L 656.914545 180.76842 L 659.196589 177.082901 L 661.478633 171.547768 L 663.760677 164.378822 L 666.042722 156.558638 L 668.324766 149.745947 L 670.60681 145.746538 " clip-path="url(#pe173c720a7)" style="fill: none; stroke-dasharray: 2.014,3.3231; stroke-dashoffset: 0; stroke: #ff7f0e; stroke-width: 2.4"/> </g> <g id="patch_19"> <path d="M 553.195636 192.350365 L 553.195636 26.329927 " style="fill: none; stroke: #000000; stroke-linejoin: miter; stroke-linecap: square"/> </g> <g id="patch_20"> <path d="M 676.197818 192.350365 L 676.197818 26.329927 " style="fill: none; stroke: #000000; stroke-linejoin: miter; stroke-linecap: square"/> </g> <g id="patch_21"> <path d="M 553.195636 192.350365 L 676.197818 192.350365 " style="fill: none; stroke: #000000; stroke-linejoin: miter; stroke-linecap: square"/> </g> <g id="patch_22"> <path d="M 553.195636 26.329927 L 676.197818 26.329927 " style="fill: none; stroke: #000000; stroke-linejoin: miter; stroke-linecap: square"/> </g> <g id="text_37"> <text style="font-size: 12.1px; font-family: 'DejaVu Sans', 'Liberation Sans', sans-serif; text-anchor: middle" x="614.696727" y="20.329927">metrics/precision(B)</text> </g> </g> <g id="axes_5"> <g id="patch_23"> <path d="M 730.315636 192.350365 L 853.317818 192.350365 L 853.317818 26.329927 L 730.315636 26.329927 z " style="fill: #ffffff"/> </g> <g id="matplotlib.axis_9"> <g id="xtick_13"> <g id="line2d_42"> <g> <path d="M 0 0 L 0 3.5" transform="translate(733.6246 192.350365)" style="stroke: #000000"/> </g> </g> <g id="text_38"> <text style="font-size: 11.05px; font-family: 'DejaVu Sans', 'Liberation Sans', sans-serif; text-anchor: middle" x="733.6246" y="207.746638">0</text> </g> </g> <g id="xtick_14"> <g id="line2d_43"> <g> <path d="M 0 0 L 0 3.5" transform="translate(779.265484 192.350365)" style="stroke: #000000"/> </g> </g> <g id="text_39"> <text style="font-size: 11.05px; font-family: 'DejaVu Sans', 'Liberation Sans', sans-serif; text-anchor: middle" x="779.265484" y="207.746638">20</text> </g> </g> <g id="xtick_15"> <g id="line2d_44"> <g> <path d="M 0 0 L 0 3.5" transform="translate(824.906368 192.350365)" style="stroke: #000000"/> </g> </g> <g id="text_40"> <text style="font-size: 11.05px; font-family: 'DejaVu Sans', 'Liberation Sans', sans-serif; text-anchor: middle" x="824.906368" y="207.746638">40</text> </g> </g> </g> <g id="matplotlib.axis_10"> <g id="ytick_20"> <g id="line2d_45"> <g> <path d="M 0 0 L -3.5 0" transform="translate(730.315636 184.803981)" style="stroke: #000000"/> </g> </g> <g id="text_41"> <text style="font-size: 11.05px; font-family: 'DejaVu Sans', 'Liberation Sans', sans-serif; text-anchor: end" x="723.315636" y="189.002118">0.00</text> </g> </g> <g id="ytick_21"> <g id="line2d_46"> <g> <path d="M 0 0 L -3.5 0" transform="translate(730.315636 147.072064)" style="stroke: #000000"/> </g> </g> <g id="text_42"> <text style="font-size: 11.05px; font-family: 'DejaVu Sans', 'Liberation Sans', sans-serif; text-anchor: end" x="723.315636" y="151.2702">0.05</text> </g> </g> <g id="ytick_22"> <g id="line2d_47"> <g> <path d="M 0 0 L -3.5 0" transform="translate(730.315636 109.340146)" style="stroke: #000000"/> </g> </g> <g id="text_43"> <text style="font-size: 11.05px; font-family: 'DejaVu Sans', 'Liberation Sans', sans-serif; text-anchor: end" x="723.315636" y="113.538283">0.10</text> </g> </g> <g id="ytick_23"> <g id="line2d_48"> <g> <path d="M 0 0 L -3.5 0" transform="translate(730.315636 71.608228)" style="stroke: #000000"/> </g> </g> <g id="text_44"> <text style="font-size: 11.05px; font-family: 'DejaVu Sans', 'Liberation Sans', sans-serif; text-anchor: end" x="723.315636" y="75.806365">0.15</text> </g> </g> <g id="ytick_24"> <g id="line2d_49"> <g> <path d="M 0 0 L -3.5 0" transform="translate(730.315636 33.876311)" style="stroke: #000000"/> </g> </g> <g id="text_45"> <text style="font-size: 11.05px; font-family: 'DejaVu Sans', 'Liberation Sans', sans-serif; text-anchor: end" x="723.315636" y="38.074447">0.20</text> </g> </g> </g> <g id="line2d_50"> <path d="M 735.906645 184.803981 L 738.188689 184.803981 L 740.470733 184.803981 L 742.752777 184.803981 L 745.034821 184.803981 L 747.316866 184.803981 L 749.59891 184.803981 L 751.880954 184.803981 L 754.162998 184.803981 L 756.445042 184.803981 L 758.727087 156.505043 L 761.009131 156.505043 L 763.291175 156.505043 L 765.573219 156.505043 L 767.855263 156.505043 L 770.137307 156.505043 L 772.419352 156.505043 L 774.701396 156.505043 L 776.98344 156.505043 L 779.265484 156.505043 L 781.547528 156.505043 L 783.829573 156.505043 L 786.111617 156.505043 L 788.393661 156.505043 L 790.675705 156.505043 L 792.957749 156.505043 L 795.239794 156.505043 L 797.521838 156.505043 L 799.803882 156.505043 L 802.085926 156.505043 L 804.36797 156.505043 L 806.650015 156.505043 L 808.932059 156.505043 L 811.214103 156.505043 L 813.496147 156.505043 L 815.778191 156.505043 L 818.060235 156.505043 L 820.34228 156.505043 L 822.624324 156.505043 L 824.906368 156.505043 L 827.188412 156.505043 L 829.470456 156.505043 L 831.752501 156.505043 L 834.034545 156.505043 L 836.316589 156.505043 L 838.598633 156.505043 L 840.880677 156.505043 L 843.162722 156.505043 L 845.444766 156.505043 L 847.72681 33.876311 " clip-path="url(#pdbdb69bc5e)" style="fill: none; stroke: #0c72c0; stroke-width: 2.4; stroke-linecap: square"/> <g clip-path="url(#pdbdb69bc5e)"> <circle cx="735.906645" cy="184.803981" r="2.000" style="fill: #0c72c0; stroke: #0c72c0"/> <circle cx="738.188689" cy="184.803981" r="2.000" style="fill: #0c72c0; stroke: #0c72c0"/> <circle cx="740.470733" cy="184.803981" r="2.000" style="fill: #0c72c0; stroke: #0c72c0"/> <circle cx="742.752777" cy="184.803981" r="2.000" style="fill: #0c72c0; stroke: #0c72c0"/> <circle cx="745.034821" cy="184.803981" r="2.000" style="fill: #0c72c0; stroke: #0c72c0"/> <circle cx="747.316866" cy="184.803981" r="2.000" style="fill: #0c72c0; stroke: #0c72c0"/> <circle cx="749.59891" cy="184.803981" r="2.000" style="fill: #0c72c0; stroke: #0c72c0"/> <circle cx="751.880954" cy="184.803981" r="2.000" style="fill: #0c72c0; stroke: #0c72c0"/> <circle cx="754.162998" cy="184.803981" r="2.000" style="fill: #0c72c0; stroke: #0c72c0"/> <circle cx="756.445042" cy="184.803981" r="2.000" style="fill: #0c72c0; stroke: #0c72c0"/> <circle cx="758.727087" cy="156.505043" r="2.000" style="fill: #0c72c0; stroke: #0c72c0"/> <circle cx="761.009131" cy="156.505043" r="2.000" style="fill: #0c72c0; stroke: #0c72c0"/> <circle cx="763.291175" cy="156.505043" r="2.000" style="fill: #0c72c0; stroke: #0c72c0"/> <circle cx="765.573219" cy="156.505043" r="2.000" style="fill: #0c72c0; stroke: #0c72c0"/> <circle cx="767.855263" cy="156.505043" r="2.000" style="fill: #0c72c0; stroke: #0c72c0"/> <circle cx="770.137307" cy="156.505043" r="2.000" style="fill: #0c72c0; stroke: #0c72c0"/> <circle cx="772.419352" cy="156.505043" r="2.000" style="fill: #0c72c0; stroke: #0c72c0"/> <circle cx="774.701396" cy="156.505043" r="2.000" style="fill: #0c72c0; stroke: #0c72c0"/> <circle cx="776.98344" cy="156.505043" r="2.000" style="fill: #0c72c0; stroke: #0c72c0"/> <circle cx="779.265484" cy="156.505043" r="2.000" style="fill: #0c72c0; stroke: #0c72c0"/> <circle cx="781.547528" cy="156.505043" r="2.000" style="fill: #0c72c0; stroke: #0c72c0"/> <circle cx="783.829573" cy="156.505043" r="2.000" style="fill: #0c72c0; stroke: #0c72c0"/> <circle cx="786.111617" cy="156.505043" r="2.000" style="fill: #0c72c0; stroke: #0c72c0"/> <circle cx="788.393661" cy="156.505043" r="2.000" style="fill: #0c72c0; stroke: #0c72c0"/> <circle cx="790.675705" cy="156.505043" r="2.000" style="fill: #0c72c0; stroke: #0c72c0"/> <circle cx="792.957749" cy="156.505043" r="2.000" style="fill: #0c72c0; stroke: #0c72c0"/> <circle cx="795.239794" cy="156.505043" r="2.000" style="fill: #0c72c0; stroke: #0c72c0"/> <circle cx="797.521838" cy="156.505043" r="2.000" style="fill: #0c72c0; stroke: #0c72c0"/> <circle cx="799.803882" cy="156.505043" r="2.000" style="fill: #0c72c0; stroke: #0c72c0"/> <circle cx="802.085926" cy="156.505043" r="2.000" style="fill: #0c72c0; stroke: #0c72c0"/> <circle cx="804.36797" cy="156.505043" r="2.000" style="fill: #0c72c0; stroke: #0c72c0"/> <circle cx="806.650015" cy="156.505043" r="2.000" style="fill: #0c72c0; stroke: #0c72c0"/> <circle cx="808.932059" cy="156.505043" r="2.000" style="fill: #0c72c0; stroke: #0c72c0"/> <circle cx="811.214103" cy="156.505043" r="2.000" style="fill: #0c72c0; stroke: #0c72c0"/> <circle cx="813.496147" cy="156.505043" r="2.000" style="fill: #0c72c0; stroke: #0c72c0"/> <circle cx="815.778191" cy="156.505043" r="2.000" style="fill: #0c72c0; stroke: #0c72c0"/> <circle cx="818.060235" cy="156.505043" r="2.000" style="fill: #0c72c0; stroke: #0c72c0"/> <circle cx="820.34228" cy="156.505043" r="2.000" style="fill: #0c72c0; stroke: #0c72c0"/> <circle cx="822.624324" cy="156.505043" r="2.000" style="fill: #0c72c0; stroke: #0c72c0"/> <circle cx="824.906368" cy="156.505043" r="2.000" style="fill: #0c72c0; stroke: #0c72c0"/> <circle cx="827.188412" cy="156.505043" r="2.000" style="fill: #0c72c0; stroke: #0c72c0"/> <circle cx="829.470456" cy="156.505043" r="2.000" style="fill: #0c72c0; stroke: #0c72c0"/> <circle cx="831.752501" cy="156.505043" r="2.000" style="fill: #0c72c0; stroke: #0c72c0"/> <circle cx="834.034545" cy="156.505043" r="2.000" style="fill: #0c72c0; stroke: #0c72c0"/> <circle cx="836.316589" cy="156.505043" r="2.000" style="fill: #0c72c0; stroke: #0c72c0"/> <circle cx="838.598633" cy="156.505043" r="2.000" style="fill: #0c72c0; stroke: #0c72c0"/> <circle cx="840.880677" cy="156.505043" r="2.000" style="fill: #0c72c0; stroke: #0c72c0"/> <circle cx="843.162722" cy="156.505043" r="2.000" style="fill: #0c72c0; stroke: #0c72c0"/> <circle cx="845.444766" cy="156.505043" r="2.000" style="fill: #0c72c0; stroke: #0c72c0"/> <circle cx="847.72681" cy="33.876311" r="2.000" style="fill: #0c72c0; stroke: #0c72c0"/> </g> </g> <g id="line2d_51"> <path d="M 735.906645 184.777847 L 738.188689 184.740571 L 740.470733 184.634332 L 742.752777 184.386974 L 745.034821 183.877664 L 747.316866 182.939272 L 749.59891 181.392124 L 751.880954 179.109554 L 754.162998 176.096122 L 756.445042 172.536173 L 758.727087 168.772852 L 761.009131 165.212902 L 763.291175 162.19947 L 765.573219 159.9169 L 767.855263 158.369753 L 770.137307 157.43136 L 772.419352 156.92205 L 774.701396 156.674693 L 776.98344 156.567192 L 779.265484 156.525385 L 781.547528 156.510836 L 783.829573 156.506306 L 786.111617 156.505043 L 788.393661 156.505043 L 790.675705 156.505043 L 792.957749 156.505043 L 795.239794 156.505043 L 797.521838 156.505043 L 799.803882 156.505043 L 802.085926 156.505043 L 804.36797 156.505043 L 806.650015 156.505043 L 808.932059 156.505043 L 811.214103 156.505043 L 813.496147 156.505043 L 815.778191 156.505043 L 818.060235 156.505043 L 820.34228 156.499572 L 822.624324 156.47994 L 824.906368 156.422367 L 827.188412 156.260836 L 829.470456 155.858042 L 831.752501 154.967322 L 834.034545 153.22615 L 836.316589 150.231665 L 838.598633 145.734369 L 840.880677 139.909601 L 843.162722 133.555702 L 845.444766 128.02039 L 847.72681 124.77087 " clip-path="url(#pdbdb69bc5e)" style="fill: none; stroke-dasharray: 2.014,3.3231; stroke-dashoffset: 0; stroke: #ff7f0e; stroke-width: 2.4"/> </g> <g id="patch_24"> <path d="M 730.315636 192.350365 L 730.315636 26.329927 " style="fill: none; stroke: #000000; stroke-linejoin: miter; stroke-linecap: square"/> </g> <g id="patch_25"> <path d="M 853.317818 192.350365 L 853.317818 26.329927 " style="fill: none; stroke: #000000; stroke-linejoin: miter; stroke-linecap: square"/> </g> <g id="patch_26"> <path d="M 730.315636 192.350365 L 853.317818 192.350365 " style="fill: none; stroke: #000000; stroke-linejoin: miter; stroke-linecap: square"/> </g> <g id="patch_27"> <path d="M 730.315636 26.329927 L 853.317818 26.329927 " style="fill: none; stroke: #000000; stroke-linejoin: miter; stroke-linecap: square"/> </g> <g id="text_46"> <text style="font-size: 12.1px; font-family: 'DejaVu Sans', 'Liberation Sans', sans-serif; text-anchor: middle" x="791.816727" y="20.329927">metrics/recall(B)</text> </g> </g> <g id="axes_6"> <g id="patch_28"> <path d="M 21.835636 404.408759 L 144.837818 404.408759 L 144.837818 238.072993 L 21.835636 238.072993 z " style="fill: #ffffff"/> </g> <g id="matplotlib.axis_11"> <g id="xtick_16"> <g id="line2d_52"> <g> <path d="M 0 0 L 0 3.5" transform="translate(25.1446 404.408759)" style="stroke: #000000"/> </g> </g> <g id="text_47"> <text style="font-size: 11.05px; font-family: 'DejaVu Sans', 'Liberation Sans', sans-serif; text-anchor: middle" x="25.1446" y="419.805033">0</text> </g> </g> <g id="xtick_17"> <g id="line2d_53"> <g> <path d="M 0 0 L 0 3.5" transform="translate(70.785484 404.408759)" style="stroke: #000000"/> </g> </g> <g id="text_48"> <text style="font-size: 11.05px; font-family: 'DejaVu Sans', 'Liberation Sans', sans-serif; text-anchor: middle" x="70.785484" y="419.805033">20</text> </g> </g> <g id="xtick_18"> <g id="line2d_54"> <g> <path d="M 0 0 L 0 3.5" transform="translate(116.426368 404.408759)" style="stroke: #000000"/> </g> </g> <g id="text_49"> <text style="font-size: 11.05px; font-family: 'DejaVu Sans', 'Liberation Sans', sans-serif; text-anchor: middle" x="116.426368" y="419.805033">40</text> </g> </g> </g> <g id="matplotlib.axis_12"> <g id="ytick_25"> <g id="line2d_55"> <g> <path d="M 0 0 L -3.5 0" transform="translate(21.835636 396.848042)" style="stroke: #000000"/> </g> </g> <g id="text_50"> <text style="font-size: 11.05px; font-family: 'DejaVu Sans', 'Liberation Sans', sans-serif; text-anchor: end" x="14.835636" y="401.046179">0</text> </g> </g> <g id="ytick_26"> <g id="line2d_56"> <g> <path d="M 0 0 L -3.5 0" transform="translate(21.835636 366.605176)" style="stroke: #000000"/> </g> </g> <g id="text_51"> <text style="font-size: 11.05px; font-family: 'DejaVu Sans', 'Liberation Sans', sans-serif; text-anchor: end" x="14.835636" y="370.803313">1</text> </g> </g> <g id="ytick_27"> <g id="line2d_57"> <g> <path d="M 0 0 L -3.5 0" transform="translate(21.835636 336.362309)" style="stroke: #000000"/> </g> </g> <g id="text_52"> <text style="font-size: 11.05px; font-family: 'DejaVu Sans', 'Liberation Sans', sans-serif; text-anchor: end" x="14.835636" y="340.560446">2</text> </g> </g> <g id="ytick_28"> <g id="line2d_58"> <g> <path d="M 0 0 L -3.5 0" transform="translate(21.835636 306.119443)" style="stroke: #000000"/> </g> </g> <g id="text_53"> <text style="font-size: 11.05px; font-family: 'DejaVu Sans', 'Liberation Sans', sans-serif; text-anchor: end" x="14.835636" y="310.317579">3</text> </g> </g> <g id="ytick_29"> <g id="line2d_59"> <g> <path d="M 0 0 L -3.5 0" transform="translate(21.835636 275.876576)" style="stroke: #000000"/> </g> </g> <g id="text_54"> <text style="font-size: 11.05px; font-family: 'DejaVu Sans', 'Liberation Sans', sans-serif; text-anchor: end" x="14.835636" y="280.074713">4</text> </g> </g> <g id="ytick_30"> <g id="line2d_60"> <g> <path d="M 0 0 L -3.5 0" transform="translate(21.835636 245.633709)" style="stroke: #000000"/> </g> </g> <g id="text_55"> <text style="font-size: 11.05px; font-family: 'DejaVu Sans', 'Liberation Sans', sans-serif; text-anchor: end" x="14.835636" y="249.831846">5</text> </g> </g> </g> <g id="line2d_61"> <path d="M 27.426645 259.545428 L 29.708689 259.545428 L 31.990733 260.150285 L 34.272777 260.150285 L 36.554821 322.753019 L 38.836866 321.240876 L 41.11891 306.119443 L 43.400954 315.192303 L 45.682998 245.633709 L 47.965042 252.28714 M 63.939352 256.521141 M 100.452059 275.876576 L 102.734103 275.876576 L 105.016147 275.876576 L 107.298191 256.521141 L 109.580235 256.521141 L 111.86228 343.923026 L 114.144324 396.848042 L 116.426368 396.848042 L 118.708412 274.062004 L 120.990456 272.247432 L 123.272501 271.642575 L 125.554545 261.662429 L 127.836589 259.545428 L 130.118633 248.960425 L 132.400677 248.960425 L 134.682722 265.89643 L 136.964766 265.89643 L 139.24681 287.973723 " clip-path="url(#pd28ea7cb21)" style="fill: none; stroke: #0c72c0; stroke-width: 2.4; stroke-linecap: square"/> <g clip-path="url(#pd28ea7cb21)"> <circle cx="27.426645" cy="259.545428" r="2.000" style="fill: #0c72c0; stroke: #0c72c0"/> <circle cx="29.708689" cy="259.545428" r="2.000" style="fill: #0c72c0; stroke: #0c72c0"/> <circle cx="31.990733" cy="260.150285" r="2.000" style="fill: #0c72c0; stroke: #0c72c0"/> <circle cx="34.272777" cy="260.150285" r="2.000" style="fill: #0c72c0; stroke: #0c72c0"/> <circle cx="36.554821" cy="322.753019" r="2.000" style="fill: #0c72c0; stroke: #0c72c0"/> <circle cx="38.836866" cy="321.240876" r="2.000" style="fill: #0c72c0; stroke: #0c72c0"/> <circle cx="41.11891" cy="306.119443" r="2.000" style="fill: #0c72c0; stroke: #0c72c0"/> <circle cx="43.400954" cy="315.192303" r="2.000" style="fill: #0c72c0; stroke: #0c72c0"/> <circle cx="45.682998" cy="245.633709" r="2.000" style="fill: #0c72c0; stroke: #0c72c0"/> <circle cx="47.965042" cy="252.28714" r="2.000" style="fill: #0c72c0; stroke: #0c72c0"/> <circle cx="63.939352" cy="256.521141" r="2.000" style="fill: #0c72c0; stroke: #0c72c0"/> <circle cx="100.452059" cy="275.876576" r="2.000" style="fill: #0c72c0; stroke: #0c72c0"/> <circle cx="102.734103" cy="275.876576" r="2.000" style="fill: #0c72c0; stroke: #0c72c0"/> <circle cx="105.016147" cy="275.876576" r="2.000" style="fill: #0c72c0; stroke: #0c72c0"/> <circle cx="107.298191" cy="256.521141" r="2.000" style="fill: #0c72c0; stroke: #0c72c0"/> <circle cx="109.580235" cy="256.521141" r="2.000" style="fill: #0c72c0; stroke: #0c72c0"/> <circle cx="111.86228" cy="343.923026" r="2.000" style="fill: #0c72c0; stroke: #0c72c0"/> <circle cx="114.144324" cy="396.848042" r="2.000" style="fill: #0c72c0; stroke: #0c72c0"/> <circle cx="116.426368" cy="396.848042" r="2.000" style="fill: #0c72c0; stroke: #0c72c0"/> <circle cx="118.708412" cy="274.062004" r="2.000" style="fill: #0c72c0; stroke: #0c72c0"/> <circle cx="120.990456" cy="272.247432" r="2.000" style="fill: #0c72c0; stroke: #0c72c0"/> <circle cx="123.272501" cy="271.642575" r="2.000" style="fill: #0c72c0; stroke: #0c72c0"/> <circle cx="125.554545" cy="261.662429" r="2.000" style="fill: #0c72c0; stroke: #0c72c0"/> <circle cx="127.836589" cy="259.545428" r="2.000" style="fill: #0c72c0; stroke: #0c72c0"/> <circle cx="130.118633" cy="248.960425" r="2.000" style="fill: #0c72c0; stroke: #0c72c0"/> <circle cx="132.400677" cy="248.960425" r="2.000" style="fill: #0c72c0; stroke: #0c72c0"/> <circle cx="134.682722" cy="265.89643" r="2.000" style="fill: #0c72c0; stroke: #0c72c0"/> <circle cx="136.964766" cy="265.89643" r="2.000" style="fill: #0c72c0; stroke: #0c72c0"/> <circle cx="139.24681" cy="287.973723" r="2.000" style="fill: #0c72c0; stroke: #0c72c0"/> </g> </g> <g id="line2d_62"> <path d="M 127.836589 270.589204 L 130.118633 266.972605 L 132.400677 265.684087 L 134.682722 265.976818 L 136.964766 266.911225 L 139.24681 267.632457 " clip-path="url(#pd28ea7cb21)" style="fill: none; stroke-dasharray: 2.014,3.3231; stroke-dashoffset: 0; stroke: #ff7f0e; stroke-width: 2.4"/> </g> <g id="patch_29"> <path d="M 21.835636 404.408759 L 21.835636 238.072993 " style="fill: none; stroke: #000000; stroke-linejoin: miter; stroke-linecap: square"/> </g> <g id="patch_30"> <path d="M 144.837818 404.408759 L 144.837818 238.072993 " style="fill: none; stroke: #000000; stroke-linejoin: miter; stroke-linecap: square"/> </g> <g id="patch_31"> <path d="M 21.835636 404.408759 L 144.837818 404.408759 " style="fill: none; stroke: #000000; stroke-linejoin: miter; stroke-linecap: square"/> </g> <g id="patch_32"> <path d="M 21.835636 238.072993 L 144.837818 238.072993 " style="fill: none; stroke: #000000; stroke-linejoin: miter; stroke-linecap: square"/> </g> <g id="text_56"> <text style="font-size: 12.1px; font-family: 'DejaVu Sans', 'Liberation Sans', sans-serif; text-anchor: middle" x="83.336727" y="232.072993">val/box_loss</text> </g> </g> <g id="axes_7"> <g id="patch_33"> <path d="M 198.955636 404.408759 L 321.957818 404.408759 L 321.957818 238.072993 L 198.955636 238.072993 z " style="fill: #ffffff"/> </g> <g id="matplotlib.axis_13"> <g id="xtick_19"> <g id="line2d_63"> <g> <path d="M 0 0 L 0 3.5" transform="translate(202.2646 404.408759)" style="stroke: #000000"/> </g> </g> <g id="text_57"> <text style="font-size: 11.05px; font-family: 'DejaVu Sans', 'Liberation Sans', sans-serif; text-anchor: middle" x="202.2646" y="419.805033">0</text> </g> </g> <g id="xtick_20"> <g id="line2d_64"> <g> <path d="M 0 0 L 0 3.5" transform="translate(247.905484 404.408759)" style="stroke: #000000"/> </g> </g> <g id="text_58"> <text style="font-size: 11.05px; font-family: 'DejaVu Sans', 'Liberation Sans', sans-serif; text-anchor: middle" x="247.905484" y="419.805033">20</text> </g> </g> <g id="xtick_21"> <g id="line2d_65"> <g> <path d="M 0 0 L 0 3.5" transform="translate(293.546368 404.408759)" style="stroke: #000000"/> </g> </g> <g id="text_59"> <text style="font-size: 11.05px; font-family: 'DejaVu Sans', 'Liberation Sans', sans-serif; text-anchor: middle" x="293.546368" y="419.805033">40</text> </g> </g> </g> <g id="matplotlib.axis_14"> <g id="ytick_31"> <g id="line2d_66"> <g> <path d="M 0 0 L -3.5 0" transform="translate(198.955636 397.164722)" style="stroke: #000000"/> </g> </g> <g id="text_60"> <text style="font-size: 11.05px; font-family: 'DejaVu Sans', 'Liberation Sans', sans-serif; text-anchor: end" x="191.955636" y="401.362858">0</text> </g> </g> <g id="ytick_32"> <g id="line2d_67"> <g> <path d="M 0 0 L -3.5 0" transform="translate(198.955636 365.496799)" style="stroke: #000000"/> </g> </g> <g id="text_61"> <text style="font-size: 11.05px; font-family: 'DejaVu Sans', 'Liberation Sans', sans-serif; text-anchor: end" x="191.955636" y="369.694935">2000</text> </g> </g> <g id="ytick_33"> <g id="line2d_68"> <g> <path d="M 0 0 L -3.5 0" transform="translate(198.955636 333.828875)" style="stroke: #000000"/> </g> </g> <g id="text_62"> <text style="font-size: 11.05px; font-family: 'DejaVu Sans', 'Liberation Sans', sans-serif; text-anchor: end" x="191.955636" y="338.027012">4000</text> </g> </g> <g id="ytick_34"> <g id="line2d_69"> <g> <path d="M 0 0 L -3.5 0" transform="translate(198.955636 302.160952)" style="stroke: #000000"/> </g> </g> <g id="text_63"> <text style="font-size: 11.05px; font-family: 'DejaVu Sans', 'Liberation Sans', sans-serif; text-anchor: end" x="191.955636" y="306.359089">6000</text> </g> </g> <g id="ytick_35"> <g id="line2d_70"> <g> <path d="M 0 0 L -3.5 0" transform="translate(198.955636 270.493029)" style="stroke: #000000"/> </g> </g> <g id="text_64"> <text style="font-size: 11.05px; font-family: 'DejaVu Sans', 'Liberation Sans', sans-serif; text-anchor: end" x="191.955636" y="274.691166">8000</text> </g> </g> <g id="ytick_36"> <g id="line2d_71"> <g> <path d="M 0 0 L -3.5 0" transform="translate(198.955636 238.825106)" style="stroke: #000000"/> </g> </g> <g id="text_65"> <text style="font-size: 11.05px; font-family: 'DejaVu Sans', 'Liberation Sans', sans-serif; text-anchor: end" x="191.955636" y="243.023243">10000</text> </g> </g> </g> <g id="line2d_72"> <path d="M 204.546645 396.848042 L 206.828689 396.848042 L 209.110733 396.689703 L 211.392777 396.531363 L 213.674821 396.214684 L 215.956866 395.581326 L 218.23891 393.997929 L 220.520954 245.633709 L 222.802998 393.206231 M 316.36681 349.662837 " clip-path="url(#p6aadcfc388)" style="fill: none; stroke: #0c72c0; stroke-width: 2.4; stroke-linecap: square"/> <g clip-path="url(#p6aadcfc388)"> <circle cx="204.546645" cy="396.848042" r="2.000" style="fill: #0c72c0; stroke: #0c72c0"/> <circle cx="206.828689" cy="396.848042" r="2.000" style="fill: #0c72c0; stroke: #0c72c0"/> <circle cx="209.110733" cy="396.689703" r="2.000" style="fill: #0c72c0; stroke: #0c72c0"/> <circle cx="211.392777" cy="396.531363" r="2.000" style="fill: #0c72c0; stroke: #0c72c0"/> <circle cx="213.674821" cy="396.214684" r="2.000" style="fill: #0c72c0; stroke: #0c72c0"/> <circle cx="215.956866" cy="395.581326" r="2.000" style="fill: #0c72c0; stroke: #0c72c0"/> <circle cx="218.23891" cy="393.997929" r="2.000" style="fill: #0c72c0; stroke: #0c72c0"/> <circle cx="220.520954" cy="245.633709" r="2.000" style="fill: #0c72c0; stroke: #0c72c0"/> <circle cx="222.802998" cy="393.206231" r="2.000" style="fill: #0c72c0; stroke: #0c72c0"/> <circle cx="316.36681" cy="349.662837" r="2.000" style="fill: #0c72c0; stroke: #0c72c0"/> </g> </g> <g id="line2d_73"> <path clip-path="url(#p6aadcfc388)" style="fill: none; stroke-dasharray: 2.014,3.3231; stroke-dashoffset: 0; stroke: #ff7f0e; stroke-width: 2.4"/> </g> <g id="patch_34"> <path d="M 198.955636 404.408759 L 198.955636 238.072993 " style="fill: none; stroke: #000000; stroke-linejoin: miter; stroke-linecap: square"/> </g> <g id="patch_35"> <path d="M 321.957818 404.408759 L 321.957818 238.072993 " style="fill: none; stroke: #000000; stroke-linejoin: miter; stroke-linecap: square"/> </g> <g id="patch_36"> <path d="M 198.955636 404.408759 L 321.957818 404.408759 " style="fill: none; stroke: #000000; stroke-linejoin: miter; stroke-linecap: square"/> </g> <g id="patch_37"> <path d="M 198.955636 238.072993 L 321.957818 238.072993 " style="fill: none; stroke: #000000; stroke-linejoin: miter; stroke-linecap: square"/> </g> <g id="text_66"> <text style="font-size: 12.1px; font-family: 'DejaVu Sans', 'Liberation Sans', sans-serif; text-anchor: middle" x="260.456727" y="232.072993">val/cls_loss</text> </g> </g> <g id="axes_8"> <g id="patch_38"> <path d="M 376.075636 404.408759 L 499.077818 404.408759 L 499.077818 238.072993 L 376.075636 238.072993 z " style="fill: #ffffff"/> </g> <g id="matplotlib.axis_15"> <g id="xtick_22"> <g id="line2d_74"> <g> <path d="M 0 0 L 0 3.5" transform="translate(379.3846 404.408759)" style="stroke: #000000"/> </g> </g> <g id="text_67"> <text style="font-size: 11.05px; font-family: 'DejaVu Sans', 'Liberation Sans', sans-serif; text-anchor: middle" x="379.3846" y="419.805033">0</text> </g> </g> <g id="xtick_23"> <g id="line2d_75"> <g> <path d="M 0 0 L 0 3.5" transform="translate(425.025484 404.408759)" style="stroke: #000000"/> </g> </g> <g id="text_68"> <text style="font-size: 11.05px; font-family: 'DejaVu Sans', 'Liberation Sans', sans-serif; text-anchor: middle" x="425.025484" y="419.805033">20</text> </g> </g> <g id="xtick_24"> <g id="line2d_76"> <g> <path d="M 0 0 L 0 3.5" transform="translate(470.666368 404.408759)" style="stroke: #000000"/> </g> </g> <g id="text_69"> <text style="font-size: 11.05px; font-family: 'DejaVu Sans', 'Liberation Sans', sans-serif; text-anchor: middle" x="470.666368" y="419.805033">40</text> </g> </g> </g> <g id="matplotlib.axis_16"> <g id="ytick_37"> <g id="line2d_77"> <g> <path d="M 0 0 L -3.5 0" transform="translate(376.075636 396.848042)" style="stroke: #000000"/> </g> </g> <g id="text_70"> <text style="font-size: 11.05px; font-family: 'DejaVu Sans', 'Liberation Sans', sans-serif; text-anchor: end" x="369.075636" y="401.046179">0</text> </g> </g> <g id="ytick_38"> <g id="line2d_78"> <g> <path d="M 0 0 L -3.5 0" transform="translate(376.075636 372.921724)" style="stroke: #000000"/> </g> </g> <g id="text_71"> <text style="font-size: 11.05px; font-family: 'DejaVu Sans', 'Liberation Sans', sans-serif; text-anchor: end" x="369.075636" y="377.119861">25</text> </g> </g> <g id="ytick_39"> <g id="line2d_79"> <g> <path d="M 0 0 L -3.5 0" transform="translate(376.075636 348.995405)" style="stroke: #000000"/> </g> </g> <g id="text_72"> <text style="font-size: 11.05px; font-family: 'DejaVu Sans', 'Liberation Sans', sans-serif; text-anchor: end" x="369.075636" y="353.193542">50</text> </g> </g> <g id="ytick_40"> <g id="line2d_80"> <g> <path d="M 0 0 L -3.5 0" transform="translate(376.075636 325.069087)" style="stroke: #000000"/> </g> </g> <g id="text_73"> <text style="font-size: 11.05px; font-family: 'DejaVu Sans', 'Liberation Sans', sans-serif; text-anchor: end" x="369.075636" y="329.267224">75</text> </g> </g> <g id="ytick_41"> <g id="line2d_81"> <g> <path d="M 0 0 L -3.5 0" transform="translate(376.075636 301.142768)" style="stroke: #000000"/> </g> </g> <g id="text_74"> <text style="font-size: 11.05px; font-family: 'DejaVu Sans', 'Liberation Sans', sans-serif; text-anchor: end" x="369.075636" y="305.340905">100</text> </g> </g> <g id="ytick_42"> <g id="line2d_82"> <g> <path d="M 0 0 L -3.5 0" transform="translate(376.075636 277.21645)" style="stroke: #000000"/> </g> </g> <g id="text_75"> <text style="font-size: 11.05px; font-family: 'DejaVu Sans', 'Liberation Sans', sans-serif; text-anchor: end" x="369.075636" y="281.414587">125</text> </g> </g> <g id="ytick_43"> <g id="line2d_83"> <g> <path d="M 0 0 L -3.5 0" transform="translate(376.075636 253.290131)" style="stroke: #000000"/> </g> </g> <g id="text_76"> <text style="font-size: 11.05px; font-family: 'DejaVu Sans', 'Liberation Sans', sans-serif; text-anchor: end" x="369.075636" y="257.488268">150</text> </g> </g> </g> <g id="line2d_84"> <path d="M 381.666645 396.273811 L 383.948689 396.273811 L 386.230733 396.273811 L 388.512777 396.273811 L 390.794821 396.178106 L 393.076866 396.0824 L 395.35891 395.316758 L 397.640954 396.0824 L 399.922998 395.316758 L 402.205042 396.0824 M 418.179352 396.0824 M 454.692059 245.633709 L 456.974103 245.633709 L 459.256147 279.130555 L 461.538191 308.79919 L 463.820235 308.79919 L 466.10228 326.983192 L 468.384324 396.848042 L 470.666368 396.848042 L 472.948412 310.713296 L 475.230456 328.897298 L 477.512501 328.897298 L 479.794545 375.122945 L 482.076589 375.122945 L 484.358633 389.670147 L 486.640677 389.670147 L 488.922722 394.933937 L 491.204766 394.933937 L 493.48681 395.699579 " clip-path="url(#p1b3e46edf5)" style="fill: none; stroke: #0c72c0; stroke-width: 2.4; stroke-linecap: square"/> <g clip-path="url(#p1b3e46edf5)"> <circle cx="381.666645" cy="396.273811" r="2.000" style="fill: #0c72c0; stroke: #0c72c0"/> <circle cx="383.948689" cy="396.273811" r="2.000" style="fill: #0c72c0; stroke: #0c72c0"/> <circle cx="386.230733" cy="396.273811" r="2.000" style="fill: #0c72c0; stroke: #0c72c0"/> <circle cx="388.512777" cy="396.273811" r="2.000" style="fill: #0c72c0; stroke: #0c72c0"/> <circle cx="390.794821" cy="396.178106" r="2.000" style="fill: #0c72c0; stroke: #0c72c0"/> <circle cx="393.076866" cy="396.0824" r="2.000" style="fill: #0c72c0; stroke: #0c72c0"/> <circle cx="395.35891" cy="395.316758" r="2.000" style="fill: #0c72c0; stroke: #0c72c0"/> <circle cx="397.640954" cy="396.0824" r="2.000" style="fill: #0c72c0; stroke: #0c72c0"/> <circle cx="399.922998" cy="395.316758" r="2.000" style="fill: #0c72c0; stroke: #0c72c0"/> <circle cx="402.205042" cy="396.0824" r="2.000" style="fill: #0c72c0; stroke: #0c72c0"/> <circle cx="418.179352" cy="396.0824" r="2.000" style="fill: #0c72c0; stroke: #0c72c0"/> <circle cx="454.692059" cy="245.633709" r="2.000" style="fill: #0c72c0; stroke: #0c72c0"/> <circle cx="456.974103" cy="245.633709" r="2.000" style="fill: #0c72c0; stroke: #0c72c0"/> <circle cx="459.256147" cy="279.130555" r="2.000" style="fill: #0c72c0; stroke: #0c72c0"/> <circle cx="461.538191" cy="308.79919" r="2.000" style="fill: #0c72c0; stroke: #0c72c0"/> <circle cx="463.820235" cy="308.79919" r="2.000" style="fill: #0c72c0; stroke: #0c72c0"/> <circle cx="466.10228" cy="326.983192" r="2.000" style="fill: #0c72c0; stroke: #0c72c0"/> <circle cx="468.384324" cy="396.848042" r="2.000" style="fill: #0c72c0; stroke: #0c72c0"/> <circle cx="470.666368" cy="396.848042" r="2.000" style="fill: #0c72c0; stroke: #0c72c0"/> <circle cx="472.948412" cy="310.713296" r="2.000" style="fill: #0c72c0; stroke: #0c72c0"/> <circle cx="475.230456" cy="328.897298" r="2.000" style="fill: #0c72c0; stroke: #0c72c0"/> <circle cx="477.512501" cy="328.897298" r="2.000" style="fill: #0c72c0; stroke: #0c72c0"/> <circle cx="479.794545" cy="375.122945" r="2.000" style="fill: #0c72c0; stroke: #0c72c0"/> <circle cx="482.076589" cy="375.122945" r="2.000" style="fill: #0c72c0; stroke: #0c72c0"/> <circle cx="484.358633" cy="389.670147" r="2.000" style="fill: #0c72c0; stroke: #0c72c0"/> <circle cx="486.640677" cy="389.670147" r="2.000" style="fill: #0c72c0; stroke: #0c72c0"/> <circle cx="488.922722" cy="394.933937" r="2.000" style="fill: #0c72c0; stroke: #0c72c0"/> <circle cx="491.204766" cy="394.933937" r="2.000" style="fill: #0c72c0; stroke: #0c72c0"/> <circle cx="493.48681" cy="395.699579" r="2.000" style="fill: #0c72c0; stroke: #0c72c0"/> </g> </g> <g id="line2d_85"> <path d="M 482.076589 370.60566 L 484.358633 376.859937 L 486.640677 382.393389 L 488.922722 386.723046 L 491.204766 389.627494 L 493.48681 391.068637 " clip-path="url(#p1b3e46edf5)" style="fill: none; stroke-dasharray: 2.014,3.3231; stroke-dashoffset: 0; stroke: #ff7f0e; stroke-width: 2.4"/> </g> <g id="patch_39"> <path d="M 376.075636 404.408759 L 376.075636 238.072993 " style="fill: none; stroke: #000000; stroke-linejoin: miter; stroke-linecap: square"/> </g> <g id="patch_40"> <path d="M 499.077818 404.408759 L 499.077818 238.072993 " style="fill: none; stroke: #000000; stroke-linejoin: miter; stroke-linecap: square"/> </g> <g id="patch_41"> <path d="M 376.075636 404.408759 L 499.077818 404.408759 " style="fill: none; stroke: #000000; stroke-linejoin: miter; stroke-linecap: square"/> </g> <g id="patch_42"> <path d="M 376.075636 238.072993 L 499.077818 238.072993 " style="fill: none; stroke: #000000; stroke-linejoin: miter; stroke-linecap: square"/> </g> <g id="text_77"> <text style="font-size: 12.1px; font-family: 'DejaVu Sans', 'Liberation Sans', sans-serif; text-anchor: middle" x="437.576727" y="232.072993">val/dfl_loss</text> </g> </g> <g id="axes_9"> <g id="patch_43"> <path d="M 553.195636 404.408759 L 676.197818 404.408759 L 676.197818 238.072993 L 553.195636 238.072993 z " style="fill: #ffffff"/> </g> <g id="matplotlib.axis_17"> <g id="xtick_25"> <g id="line2d_86"> <g> <path d="M 0 0 L 0 3.5" transform="translate(556.5046 404.408759)" style="stroke: #000000"/> </g> </g> <g id="text_78"> <text style="font-size: 11.05px; font-family: 'DejaVu Sans', 'Liberation Sans', sans-serif; text-anchor: middle" x="556.5046" y="419.805033">0</text> </g> </g> <g id="xtick_26"> <g id="line2d_87"> <g> <path d="M 0 0 L 0 3.5" transform="translate(602.145484 404.408759)" style="stroke: #000000"/> </g> </g> <g id="text_79"> <text style="font-size: 11.05px; font-family: 'DejaVu Sans', 'Liberation Sans', sans-serif; text-anchor: middle" x="602.145484" y="419.805033">20</text> </g> </g> <g id="xtick_27"> <g id="line2d_88"> <g> <path d="M 0 0 L 0 3.5" transform="translate(647.786368 404.408759)" style="stroke: #000000"/> </g> </g> <g id="text_80"> <text style="font-size: 11.05px; font-family: 'DejaVu Sans', 'Liberation Sans', sans-serif; text-anchor: middle" x="647.786368" y="419.805033">40</text> </g> </g> </g> <g id="matplotlib.axis_18"> <g id="ytick_44"> <g id="line2d_89"> <g> <path d="M 0 0 L -3.5 0" transform="translate(553.195636 396.848042)" style="stroke: #000000"/> </g> </g> <g id="text_81"> <text style="font-size: 11.05px; font-family: 'DejaVu Sans', 'Liberation Sans', sans-serif; text-anchor: end" x="546.195636" y="401.046179">0.00</text> </g> </g> <g id="ytick_45"> <g id="line2d_90"> <g> <path d="M 0 0 L -3.5 0" transform="translate(553.195636 372.692398)" style="stroke: #000000"/> </g> </g> <g id="text_82"> <text style="font-size: 11.05px; font-family: 'DejaVu Sans', 'Liberation Sans', sans-serif; text-anchor: end" x="546.195636" y="376.890535">0.05</text> </g> </g> <g id="ytick_46"> <g id="line2d_91"> <g> <path d="M 0 0 L -3.5 0" transform="translate(553.195636 348.536754)" style="stroke: #000000"/> </g> </g> <g id="text_83"> <text style="font-size: 11.05px; font-family: 'DejaVu Sans', 'Liberation Sans', sans-serif; text-anchor: end" x="546.195636" y="352.734891">0.10</text> </g> </g> <g id="ytick_47"> <g id="line2d_92"> <g> <path d="M 0 0 L -3.5 0" transform="translate(553.195636 324.38111)" style="stroke: #000000"/> </g> </g> <g id="text_84"> <text style="font-size: 11.05px; font-family: 'DejaVu Sans', 'Liberation Sans', sans-serif; text-anchor: end" x="546.195636" y="328.579246">0.15</text> </g> </g> <g id="ytick_48"> <g id="line2d_93"> <g> <path d="M 0 0 L -3.5 0" transform="translate(553.195636 300.225465)" style="stroke: #000000"/> </g> </g> <g id="text_85"> <text style="font-size: 11.05px; font-family: 'DejaVu Sans', 'Liberation Sans', sans-serif; text-anchor: end" x="546.195636" y="304.423602">0.20</text> </g> </g> <g id="ytick_49"> <g id="line2d_94"> <g> <path d="M 0 0 L -3.5 0" transform="translate(553.195636 276.069821)" style="stroke: #000000"/> </g> </g> <g id="text_86"> <text style="font-size: 11.05px; font-family: 'DejaVu Sans', 'Liberation Sans', sans-serif; text-anchor: end" x="546.195636" y="280.267958">0.25</text> </g> </g> <g id="ytick_50"> <g id="line2d_95"> <g> <path d="M 0 0 L -3.5 0" transform="translate(553.195636 251.914177)" style="stroke: #000000"/> </g> </g> <g id="text_87"> <text style="font-size: 11.05px; font-family: 'DejaVu Sans', 'Liberation Sans', sans-serif; text-anchor: end" x="546.195636" y="256.112314">0.30</text> </g> </g> </g> <g id="line2d_96"> <path d="M 558.786645 396.848042 L 561.068689 396.848042 L 563.350733 396.848042 L 565.632777 396.848042 L 567.914821 396.848042 L 570.196866 396.848042 L 572.47891 396.848042 L 574.760954 396.848042 L 577.042998 396.848042 L 579.325042 396.848042 L 581.607087 396.848042 L 583.889131 396.848042 L 586.171175 396.848042 L 588.453219 396.848042 L 590.735263 396.848042 L 593.017307 396.848042 L 595.299352 396.848042 L 597.581396 396.848042 L 599.86344 396.848042 L 602.145484 396.848042 L 604.427528 396.848042 L 606.709573 396.848042 L 608.991617 396.848042 L 611.273661 396.848042 L 613.555705 396.848042 L 615.837749 396.848042 L 618.119794 396.848042 L 620.401838 396.848042 L 622.683882 396.848042 L 624.965926 396.848042 L 627.24797 396.848042 L 629.530015 396.848042 L 631.812059 396.848042 L 634.094103 396.848042 L 636.376147 396.848042 L 638.658191 396.848042 L 640.940235 396.848042 L 643.22228 396.848042 L 645.504324 396.848042 L 647.786368 396.848042 L 650.068412 396.848042 L 652.350456 396.848042 L 654.632501 396.848042 L 656.914545 396.848042 L 659.196589 396.848042 L 661.478633 396.848042 L 663.760677 396.848042 L 666.042722 396.848042 L 668.324766 396.848042 L 670.60681 245.633709 " clip-path="url(#p5a28a9d19a)" style="fill: none; stroke: #0c72c0; stroke-width: 2.4; stroke-linecap: square"/> <g clip-path="url(#p5a28a9d19a)"> <circle cx="558.786645" cy="396.848042" r="2.000" style="fill: #0c72c0; stroke: #0c72c0"/> <circle cx="561.068689" cy="396.848042" r="2.000" style="fill: #0c72c0; stroke: #0c72c0"/> <circle cx="563.350733" cy="396.848042" r="2.000" style="fill: #0c72c0; stroke: #0c72c0"/> <circle cx="565.632777" cy="396.848042" r="2.000" style="fill: #0c72c0; stroke: #0c72c0"/> <circle cx="567.914821" cy="396.848042" r="2.000" style="fill: #0c72c0; stroke: #0c72c0"/> <circle cx="570.196866" cy="396.848042" r="2.000" style="fill: #0c72c0; stroke: #0c72c0"/> <circle cx="572.47891" cy="396.848042" r="2.000" style="fill: #0c72c0; stroke: #0c72c0"/> <circle cx="574.760954" cy="396.848042" r="2.000" style="fill: #0c72c0; stroke: #0c72c0"/> <circle cx="577.042998" cy="396.848042" r="2.000" style="fill: #0c72c0; stroke: #0c72c0"/> <circle cx="579.325042" cy="396.848042" r="2.000" style="fill: #0c72c0; stroke: #0c72c0"/> <circle cx="581.607087" cy="396.848042" r="2.000" style="fill: #0c72c0; stroke: #0c72c0"/> <circle cx="583.889131" cy="396.848042" r="2.000" style="fill: #0c72c0; stroke: #0c72c0"/> <circle cx="586.171175" cy="396.848042" r="2.000" style="fill: #0c72c0; stroke: #0c72c0"/> <circle cx="588.453219" cy="396.848042" r="2.000" style="fill: #0c72c0; stroke: #0c72c0"/> <circle cx="590.735263" cy="396.848042" r="2.000" style="fill: #0c72c0; stroke: #0c72c0"/> <circle cx="593.017307" cy="396.848042" r="2.000" style="fill: #0c72c0; stroke: #0c72c0"/> <circle cx="595.299352" cy="396.848042" r="2.000" style="fill: #0c72c0; stroke: #0c72c0"/> <circle cx="597.581396" cy="396.848042" r="2.000" style="fill: #0c72c0; stroke: #0c72c0"/> <circle cx="599.86344" cy="396.848042" r="2.000" style="fill: #0c72c0; stroke: #0c72c0"/> <circle cx="602.145484" cy="396.848042" r="2.000" style="fill: #0c72c0; stroke: #0c72c0"/> <circle cx="604.427528" cy="396.848042" r="2.000" style="fill: #0c72c0; stroke: #0c72c0"/> <circle cx="606.709573" cy="396.848042" r="2.000" style="fill: #0c72c0; stroke: #0c72c0"/> <circle cx="608.991617" cy="396.848042" r="2.000" style="fill: #0c72c0; stroke: #0c72c0"/> <circle cx="611.273661" cy="396.848042" r="2.000" style="fill: #0c72c0; stroke: #0c72c0"/> <circle cx="613.555705" cy="396.848042" r="2.000" style="fill: #0c72c0; stroke: #0c72c0"/> <circle cx="615.837749" cy="396.848042" r="2.000" style="fill: #0c72c0; stroke: #0c72c0"/> <circle cx="618.119794" cy="396.848042" r="2.000" style="fill: #0c72c0; stroke: #0c72c0"/> <circle cx="620.401838" cy="396.848042" r="2.000" style="fill: #0c72c0; stroke: #0c72c0"/> <circle cx="622.683882" cy="396.848042" r="2.000" style="fill: #0c72c0; stroke: #0c72c0"/> <circle cx="624.965926" cy="396.848042" r="2.000" style="fill: #0c72c0; stroke: #0c72c0"/> <circle cx="627.24797" cy="396.848042" r="2.000" style="fill: #0c72c0; stroke: #0c72c0"/> <circle cx="629.530015" cy="396.848042" r="2.000" style="fill: #0c72c0; stroke: #0c72c0"/> <circle cx="631.812059" cy="396.848042" r="2.000" style="fill: #0c72c0; stroke: #0c72c0"/> <circle cx="634.094103" cy="396.848042" r="2.000" style="fill: #0c72c0; stroke: #0c72c0"/> <circle cx="636.376147" cy="396.848042" r="2.000" style="fill: #0c72c0; stroke: #0c72c0"/> <circle cx="638.658191" cy="396.848042" r="2.000" style="fill: #0c72c0; stroke: #0c72c0"/> <circle cx="640.940235" cy="396.848042" r="2.000" style="fill: #0c72c0; stroke: #0c72c0"/> <circle cx="643.22228" cy="396.848042" r="2.000" style="fill: #0c72c0; stroke: #0c72c0"/> <circle cx="645.504324" cy="396.848042" r="2.000" style="fill: #0c72c0; stroke: #0c72c0"/> <circle cx="647.786368" cy="396.848042" r="2.000" style="fill: #0c72c0; stroke: #0c72c0"/> <circle cx="650.068412" cy="396.848042" r="2.000" style="fill: #0c72c0; stroke: #0c72c0"/> <circle cx="652.350456" cy="396.848042" r="2.000" style="fill: #0c72c0; stroke: #0c72c0"/> <circle cx="654.632501" cy="396.848042" r="2.000" style="fill: #0c72c0; stroke: #0c72c0"/> <circle cx="656.914545" cy="396.848042" r="2.000" style="fill: #0c72c0; stroke: #0c72c0"/> <circle cx="659.196589" cy="396.848042" r="2.000" style="fill: #0c72c0; stroke: #0c72c0"/> <circle cx="661.478633" cy="396.848042" r="2.000" style="fill: #0c72c0; stroke: #0c72c0"/> <circle cx="663.760677" cy="396.848042" r="2.000" style="fill: #0c72c0; stroke: #0c72c0"/> <circle cx="666.042722" cy="396.848042" r="2.000" style="fill: #0c72c0; stroke: #0c72c0"/> <circle cx="668.324766" cy="396.848042" r="2.000" style="fill: #0c72c0; stroke: #0c72c0"/> <circle cx="670.60681" cy="245.633709" r="2.000" style="fill: #0c72c0; stroke: #0c72c0"/> </g> </g> <g id="line2d_97"> <path d="M 558.786645 396.848042 L 561.068689 396.848042 L 563.350733 396.848042 L 565.632777 396.848042 L 567.914821 396.848042 L 570.196866 396.848042 L 572.47891 396.848042 L 574.760954 396.848042 L 577.042998 396.848042 L 579.325042 396.848042 L 581.607087 396.848042 L 583.889131 396.848042 L 586.171175 396.848042 L 588.453219 396.848042 L 590.735263 396.848042 L 593.017307 396.848042 L 595.299352 396.848042 L 597.581396 396.848042 L 599.86344 396.848042 L 602.145484 396.848042 L 604.427528 396.848042 L 606.709573 396.848042 L 608.991617 396.848042 L 611.273661 396.848042 L 613.555705 396.848042 L 615.837749 396.848042 L 618.119794 396.848042 L 620.401838 396.848042 L 622.683882 396.848042 L 624.965926 396.848042 L 627.24797 396.848042 L 629.530015 396.848042 L 631.812059 396.848042 L 634.094103 396.848042 L 636.376147 396.848042 L 638.658191 396.848042 L 640.940235 396.848042 L 643.22228 396.841297 L 645.504324 396.817088 L 647.786368 396.746093 L 650.068412 396.546909 L 652.350456 396.050221 L 654.632501 394.951868 L 656.914545 392.804816 L 659.196589 389.112297 L 661.478633 383.566651 L 663.760677 376.384089 L 666.042722 368.549052 L 668.324766 361.723421 L 670.60681 357.716416 " clip-path="url(#p5a28a9d19a)" style="fill: none; stroke-dasharray: 2.014,3.3231; stroke-dashoffset: 0; stroke: #ff7f0e; stroke-width: 2.4"/> </g> <g id="patch_44"> <path d="M 553.195636 404.408759 L 553.195636 238.072993 " style="fill: none; stroke: #000000; stroke-linejoin: miter; stroke-linecap: square"/> </g> <g id="patch_45"> <path d="M 676.197818 404.408759 L 676.197818 238.072993 " style="fill: none; stroke: #000000; stroke-linejoin: miter; stroke-linecap: square"/> </g> <g id="patch_46"> <path d="M 553.195636 404.408759 L 676.197818 404.408759 " style="fill: none; stroke: #000000; stroke-linejoin: miter; stroke-linecap: square"/> </g> <g id="patch_47"> <path d="M 553.195636 238.072993 L 676.197818 238.072993 " style="fill: none; stroke: #000000; stroke-linejoin: miter; stroke-linecap: square"/> </g> <g id="text_88"> <text style="font-size: 12.1px; font-family: 'DejaVu Sans', 'Liberation Sans', sans-serif; text-anchor: middle" x="614.696727" y="232.072993">metrics/mAP50(B)</text> </g> </g> <g id="axes_10"> <g id="patch_48"> <path d="M 730.315636 404.408759 L 853.317818 404.408759 L 853.317818 238.072993 L 730.315636 238.072993 z " style="fill: #ffffff"/> </g> <g id="matplotlib.axis_19"> <g id="xtick_28"> <g id="line2d_98"> <g> <path d="M 0 0 L 0 3.5" transform="translate(733.6246 404.408759)" style="stroke: #000000"/> </g> </g> <g id="text_89"> <text style="font-size: 11.05px; font-family: 'DejaVu Sans', 'Liberation Sans', sans-serif; text-anchor: middle" x="733.6246" y="419.805033">0</text> </g> </g> <g id="xtick_29"> <g id="line2d_99"> <g> <path d="M 0 0 L 0 3.5" transform="translate(779.265484 404.408759)" style="stroke: #000000"/> </g> </g> <g id="text_90"> <text style="font-size: 11.05px; font-family: 'DejaVu Sans', 'Liberation Sans', sans-serif; text-anchor: middle" x="779.265484" y="419.805033">20</text> </g> </g> <g id="xtick_30"> <g id="line2d_100"> <g> <path d="M 0 0 L 0 3.5" transform="translate(824.906368 404.408759)" style="stroke: #000000"/> </g> </g> <g id="text_91"> <text style="font-size: 11.05px; font-family: 'DejaVu Sans', 'Liberation Sans', sans-serif; text-anchor: middle" x="824.906368" y="419.805033">40</text> </g> </g> </g> <g id="matplotlib.axis_20"> <g id="ytick_51"> <g id="line2d_101"> <g> <path d="M 0 0 L -3.5 0" transform="translate(730.315636 396.848042)" style="stroke: #000000"/> </g> </g> <g id="text_92"> <text style="font-size: 11.05px; font-family: 'DejaVu Sans', 'Liberation Sans', sans-serif; text-anchor: end" x="723.315636" y="401.046179">0.00</text> </g> </g> <g id="ytick_52"> <g id="line2d_102"> <g> <path d="M 0 0 L -3.5 0" transform="translate(730.315636 372.653749)" style="stroke: #000000"/> </g> </g> <g id="text_93"> <text style="font-size: 11.05px; font-family: 'DejaVu Sans', 'Liberation Sans', sans-serif; text-anchor: end" x="723.315636" y="376.851886">0.01</text> </g> </g> <g id="ytick_53"> <g id="line2d_103"> <g> <path d="M 0 0 L -3.5 0" transform="translate(730.315636 348.459456)" style="stroke: #000000"/> </g> </g> <g id="text_94"> <text style="font-size: 11.05px; font-family: 'DejaVu Sans', 'Liberation Sans', sans-serif; text-anchor: end" x="723.315636" y="352.657593">0.02</text> </g> </g> <g id="ytick_54"> <g id="line2d_104"> <g> <path d="M 0 0 L -3.5 0" transform="translate(730.315636 324.265163)" style="stroke: #000000"/> </g> </g> <g id="text_95"> <text style="font-size: 11.05px; font-family: 'DejaVu Sans', 'Liberation Sans', sans-serif; text-anchor: end" x="723.315636" y="328.463299">0.03</text> </g> </g> <g id="ytick_55"> <g id="line2d_105"> <g> <path d="M 0 0 L -3.5 0" transform="translate(730.315636 300.070869)" style="stroke: #000000"/> </g> </g> <g id="text_96"> <text style="font-size: 11.05px; font-family: 'DejaVu Sans', 'Liberation Sans', sans-serif; text-anchor: end" x="723.315636" y="304.269006">0.04</text> </g> </g> <g id="ytick_56"> <g id="line2d_106"> <g> <path d="M 0 0 L -3.5 0" transform="translate(730.315636 275.876576)" style="stroke: #000000"/> </g> </g> <g id="text_97"> <text style="font-size: 11.05px; font-family: 'DejaVu Sans', 'Liberation Sans', sans-serif; text-anchor: end" x="723.315636" y="280.074713">0.05</text> </g> </g> <g id="ytick_57"> <g id="line2d_107"> <g> <path d="M 0 0 L -3.5 0" transform="translate(730.315636 251.682283)" style="stroke: #000000"/> </g> </g> <g id="text_98"> <text style="font-size: 11.05px; font-family: 'DejaVu Sans', 'Liberation Sans', sans-serif; text-anchor: end" x="723.315636" y="255.880419">0.06</text> </g> </g> </g> <g id="line2d_108"> <path d="M 735.906645 396.848042 L 738.188689 396.848042 L 740.470733 396.848042 L 742.752777 396.848042 L 745.034821 396.848042 L 747.316866 396.848042 L 749.59891 396.848042 L 751.880954 396.848042 L 754.162998 396.848042 L 756.445042 396.848042 L 758.727087 396.848042 L 761.009131 396.848042 L 763.291175 396.848042 L 765.573219 396.848042 L 767.855263 396.848042 L 770.137307 396.848042 L 772.419352 396.848042 L 774.701396 396.848042 L 776.98344 396.848042 L 779.265484 396.848042 L 781.547528 396.848042 L 783.829573 396.848042 L 786.111617 396.848042 L 788.393661 396.848042 L 790.675705 396.848042 L 792.957749 396.848042 L 795.239794 396.848042 L 797.521838 396.848042 L 799.803882 396.848042 L 802.085926 396.848042 L 804.36797 396.848042 L 806.650015 396.848042 L 808.932059 396.848042 L 811.214103 396.848042 L 813.496147 396.848042 L 815.778191 396.848042 L 818.060235 396.848042 L 820.34228 396.848042 L 822.624324 396.848042 L 824.906368 396.848042 L 827.188412 396.848042 L 829.470456 396.848042 L 831.752501 396.848042 L 834.034545 396.848042 L 836.316589 396.848042 L 838.598633 396.848042 L 840.880677 396.848042 L 843.162722 396.848042 L 845.444766 396.848042 L 847.72681 245.633709 " clip-path="url(#peeb04c62c4)" style="fill: none; stroke: #0c72c0; stroke-width: 2.4; stroke-linecap: square"/> <g clip-path="url(#peeb04c62c4)"> <circle cx="735.906645" cy="396.848042" r="2.000" style="fill: #0c72c0; stroke: #0c72c0"/> <circle cx="738.188689" cy="396.848042" r="2.000" style="fill: #0c72c0; stroke: #0c72c0"/> <circle cx="740.470733" cy="396.848042" r="2.000" style="fill: #0c72c0; stroke: #0c72c0"/> <circle cx="742.752777" cy="396.848042" r="2.000" style="fill: #0c72c0; stroke: #0c72c0"/> <circle cx="745.034821" cy="396.848042" r="2.000" style="fill: #0c72c0; stroke: #0c72c0"/> <circle cx="747.316866" cy="396.848042" r="2.000" style="fill: #0c72c0; stroke: #0c72c0"/> <circle cx="749.59891" cy="396.848042" r="2.000" style="fill: #0c72c0; stroke: #0c72c0"/> <circle cx="751.880954" cy="396.848042" r="2.000" style="fill: #0c72c0; stroke: #0c72c0"/> <circle cx="754.162998" cy="396.848042" r="2.000" style="fill: #0c72c0; stroke: #0c72c0"/> <circle cx="756.445042" cy="396.848042" r="2.000" style="fill: #0c72c0; stroke: #0c72c0"/> <circle cx="758.727087" cy="396.848042" r="2.000" style="fill: #0c72c0; stroke: #0c72c0"/> <circle cx="761.009131" cy="396.848042" r="2.000" style="fill: #0c72c0; stroke: #0c72c0"/> <circle cx="763.291175" cy="396.848042" r="2.000" style="fill: #0c72c0; stroke: #0c72c0"/> <circle cx="765.573219" cy="396.848042" r="2.000" style="fill: #0c72c0; stroke: #0c72c0"/> <circle cx="767.855263" cy="396.848042" r="2.000" style="fill: #0c72c0; stroke: #0c72c0"/> <circle cx="770.137307" cy="396.848042" r="2.000" style="fill: #0c72c0; stroke: #0c72c0"/> <circle cx="772.419352" cy="396.848042" r="2.000" style="fill: #0c72c0; stroke: #0c72c0"/> <circle cx="774.701396" cy="396.848042" r="2.000" style="fill: #0c72c0; stroke: #0c72c0"/> <circle cx="776.98344" cy="396.848042" r="2.000" style="fill: #0c72c0; stroke: #0c72c0"/> <circle cx="779.265484" cy="396.848042" r="2.000" style="fill: #0c72c0; stroke: #0c72c0"/> <circle cx="781.547528" cy="396.848042" r="2.000" style="fill: #0c72c0; stroke: #0c72c0"/> <circle cx="783.829573" cy="396.848042" r="2.000" style="fill: #0c72c0; stroke: #0c72c0"/> <circle cx="786.111617" cy="396.848042" r="2.000" style="fill: #0c72c0; stroke: #0c72c0"/> <circle cx="788.393661" cy="396.848042" r="2.000" style="fill: #0c72c0; stroke: #0c72c0"/> <circle cx="790.675705" cy="396.848042" r="2.000" style="fill: #0c72c0; stroke: #0c72c0"/> <circle cx="792.957749" cy="396.848042" r="2.000" style="fill: #0c72c0; stroke: #0c72c0"/> <circle cx="795.239794" cy="396.848042" r="2.000" style="fill: #0c72c0; stroke: #0c72c0"/> <circle cx="797.521838" cy="396.848042" r="2.000" style="fill: #0c72c0; stroke: #0c72c0"/> <circle cx="799.803882" cy="396.848042" r="2.000" style="fill: #0c72c0; stroke: #0c72c0"/> <circle cx="802.085926" cy="396.848042" r="2.000" style="fill: #0c72c0; stroke: #0c72c0"/> <circle cx="804.36797" cy="396.848042" r="2.000" style="fill: #0c72c0; stroke: #0c72c0"/> <circle cx="806.650015" cy="396.848042" r="2.000" style="fill: #0c72c0; stroke: #0c72c0"/> <circle cx="808.932059" cy="396.848042" r="2.000" style="fill: #0c72c0; stroke: #0c72c0"/> <circle cx="811.214103" cy="396.848042" r="2.000" style="fill: #0c72c0; stroke: #0c72c0"/> <circle cx="813.496147" cy="396.848042" r="2.000" style="fill: #0c72c0; stroke: #0c72c0"/> <circle cx="815.778191" cy="396.848042" r="2.000" style="fill: #0c72c0; stroke: #0c72c0"/> <circle cx="818.060235" cy="396.848042" r="2.000" style="fill: #0c72c0; stroke: #0c72c0"/> <circle cx="820.34228" cy="396.848042" r="2.000" style="fill: #0c72c0; stroke: #0c72c0"/> <circle cx="822.624324" cy="396.848042" r="2.000" style="fill: #0c72c0; stroke: #0c72c0"/> <circle cx="824.906368" cy="396.848042" r="2.000" style="fill: #0c72c0; stroke: #0c72c0"/> <circle cx="827.188412" cy="396.848042" r="2.000" style="fill: #0c72c0; stroke: #0c72c0"/> <circle cx="829.470456" cy="396.848042" r="2.000" style="fill: #0c72c0; stroke: #0c72c0"/> <circle cx="831.752501" cy="396.848042" r="2.000" style="fill: #0c72c0; stroke: #0c72c0"/> <circle cx="834.034545" cy="396.848042" r="2.000" style="fill: #0c72c0; stroke: #0c72c0"/> <circle cx="836.316589" cy="396.848042" r="2.000" style="fill: #0c72c0; stroke: #0c72c0"/> <circle cx="838.598633" cy="396.848042" r="2.000" style="fill: #0c72c0; stroke: #0c72c0"/> <circle cx="840.880677" cy="396.848042" r="2.000" style="fill: #0c72c0; stroke: #0c72c0"/> <circle cx="843.162722" cy="396.848042" r="2.000" style="fill: #0c72c0; stroke: #0c72c0"/> <circle cx="845.444766" cy="396.848042" r="2.000" style="fill: #0c72c0; stroke: #0c72c0"/> <circle cx="847.72681" cy="245.633709" r="2.000" style="fill: #0c72c0; stroke: #0c72c0"/> </g> </g> <g id="line2d_109"> <path d="M 735.906645 396.848042 L 738.188689 396.848042 L 740.470733 396.848042 L 742.752777 396.848042 L 745.034821 396.848042 L 747.316866 396.848042 L 749.59891 396.848042 L 751.880954 396.848042 L 754.162998 396.848042 L 756.445042 396.848042 L 758.727087 396.848042 L 761.009131 396.848042 L 763.291175 396.848042 L 765.573219 396.848042 L 767.855263 396.848042 L 770.137307 396.848042 L 772.419352 396.848042 L 774.701396 396.848042 L 776.98344 396.848042 L 779.265484 396.848042 L 781.547528 396.848042 L 783.829573 396.848042 L 786.111617 396.848042 L 788.393661 396.848042 L 790.675705 396.848042 L 792.957749 396.848042 L 795.239794 396.848042 L 797.521838 396.848042 L 799.803882 396.848042 L 802.085926 396.848042 L 804.36797 396.848042 L 806.650015 396.848042 L 808.932059 396.848042 L 811.214103 396.848042 L 813.496147 396.848042 L 815.778191 396.848042 L 818.060235 396.848042 L 820.34228 396.841297 L 822.624324 396.817088 L 824.906368 396.746093 L 827.188412 396.546909 L 829.470456 396.050221 L 831.752501 394.951868 L 834.034545 392.804816 L 836.316589 389.112297 L 838.598633 383.566651 L 840.880677 376.384089 L 843.162722 368.549052 L 845.444766 361.723421 L 847.72681 357.716416 " clip-path="url(#peeb04c62c4)" style="fill: none; stroke-dasharray: 2.014,3.3231; stroke-dashoffset: 0; stroke: #ff7f0e; stroke-width: 2.4"/> </g> <g id="patch_49"> <path d="M 730.315636 404.408759 L 730.315636 238.072993 " style="fill: none; stroke: #000000; stroke-linejoin: miter; stroke-linecap: square"/> </g> <g id="patch_50"> <path d="M 853.317818 404.408759 L 853.317818 238.072993 " style="fill: none; stroke: #000000; stroke-linejoin: miter; stroke-linecap: square"/> </g> <g id="patch_51"> <path d="M 730.315636 404.408759 L 853.317818 404.408759 " style="fill: none; stroke: #000000; stroke-linejoin: miter; stroke-linecap: square"/> </g> <g id="patch_52"> <path d="M 730.315636 238.072993 L 853.317818 238.072993 " style="fill: none; stroke: #000000; stroke-linejoin: miter; stroke-linecap: square"/> </g> <g id="text_99"> <text style="font-size: 12.1px; font-family: 'DejaVu Sans', 'Liberation Sans', sans-serif; text-anchor: middle" x="791.816727" y="232.072993">metrics/mAP50-95(B)</text> </g> </g> </g> <defs> <clipPath id="p479b10264c"> <rect x="21.835636" y="26.329927" width="123.002182" height="166.020438"/> </clipPath> <clipPath id="pcf17336f3a"> <rect x="198.955636" y="26.329927" width="123.002182" height="166.020438"/> </clipPath> <clipPath id="pfac985c8c0"> <rect x="376.075636" y="26.329927" width="123.002182" height="166.020438"/> </clipPath> <clipPath id="pe173c720a7"> <rect x="553.195636" y="26.329927" width="123.002182" height="166.020438"/> </clipPath> <clipPath id="pdbdb69bc5e"> <rect x="730.315636" y="26.329927" width="123.002182" height="166.020438"/> </clipPath> <clipPath id="pd28ea7cb21"> <rect x="21.835636" y="238.072993" width="123.002182" height="166.335766"/> </clipPath> <clipPath id="p6aadcfc388"> <rect x="198.955636" y="238.072993" width="123.002182" height="166.335766"/> </clipPath> <clipPath id="p1b3e46edf5"> <rect x="376.075636" y="238.072993" width="123.002182" height="166.335766"/> </clipPath> <clipPath id="p5a28a9d19a"> <rect x="553.195636" y="238.072993" width="123.002182" height="166.335766"/> </clipPath> <clipPath id="peeb04c62c4"> <rect x="730.315636" y="238.072993" width="123.002182" height="166.335766"/> </clipPath> </defs> </svg> 
</body></html>
